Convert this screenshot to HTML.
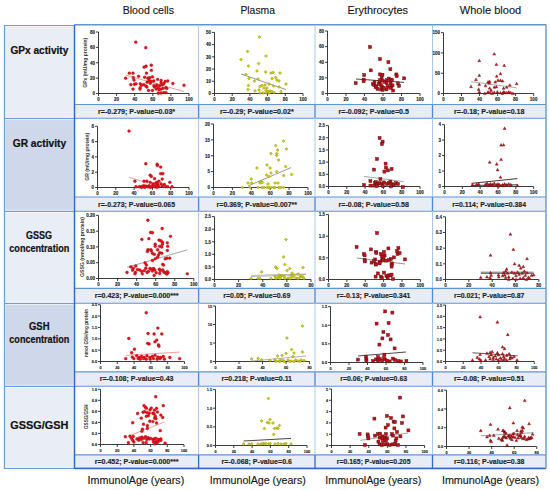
<!DOCTYPE html><html><head><meta charset="utf-8"><style>html,body{margin:0;padding:0;background:#fff;}svg{display:block;}</style></head><body>
<svg width="550" height="490" viewBox="0 0 550 490" font-family='"Liberation Sans", sans-serif'>
<rect width="550" height="490" fill="#fff"/>
<text x="122.7" y="13.6" font-size="10.1" font-weight="normal" fill="#151515" stroke="#151515" stroke-width="0.12" textLength="51.3" lengthAdjust="spacingAndGlyphs">Blood cells</text>
<text x="240.4" y="13.6" font-size="10.1" font-weight="normal" fill="#151515" stroke="#151515" stroke-width="0.12" textLength="34.6" lengthAdjust="spacingAndGlyphs">Plasma</text>
<text x="347.6" y="13.6" font-size="10.1" font-weight="normal" fill="#151515" stroke="#151515" stroke-width="0.12" textLength="60.4" lengthAdjust="spacingAndGlyphs">Erythrocytes</text>
<text x="459.8" y="13.6" font-size="10.1" font-weight="normal" fill="#151515" stroke="#151515" stroke-width="0.12" textLength="61.4" lengthAdjust="spacingAndGlyphs">Whole blood</text>
<rect x="4" y="25" width="70.5" height="93" fill="#e9edf5"/>
<rect x="4" y="118" width="70.5" height="93" fill="#cfd8ea"/>
<rect x="4" y="211" width="70.5" height="92" fill="#e9edf5"/>
<rect x="4" y="303" width="70.5" height="83" fill="#cfd8ea"/>
<rect x="4" y="386" width="70.5" height="82" fill="#e9edf5"/>
<rect x="75" y="25" width="471" height="79.5" fill="#fff"/>
<rect x="75" y="104.5" width="471" height="13.5" fill="#e8ecf4"/>
<rect x="75" y="118" width="471" height="79" fill="#fff"/>
<rect x="75" y="197" width="471" height="14" fill="#e8ecf4"/>
<rect x="75" y="211" width="471" height="77.39999999999998" fill="#fff"/>
<rect x="75" y="288.4" width="471" height="14.600000000000023" fill="#e8ecf4"/>
<rect x="75" y="303" width="471" height="68.89999999999998" fill="#fff"/>
<rect x="75" y="371.9" width="471" height="14.100000000000023" fill="#e8ecf4"/>
<rect x="75" y="386" width="471" height="68.89999999999998" fill="#fff"/>
<rect x="75" y="454.9" width="471" height="13.100000000000023" fill="#e8ecf4"/>
<line x1="5" y1="26.6" x2="74" y2="26.6" stroke="#f7f8fc" stroke-width="0.9" opacity="0.8"/>
<line x1="5" y1="117.1" x2="74" y2="117.1" stroke="#f7f8fc" stroke-width="0.8" opacity="0.6"/>
<line x1="5" y1="119.6" x2="74" y2="119.6" stroke="#f7f8fc" stroke-width="0.9" opacity="0.8"/>
<line x1="5" y1="210.1" x2="74" y2="210.1" stroke="#f7f8fc" stroke-width="0.8" opacity="0.6"/>
<line x1="5" y1="212.6" x2="74" y2="212.6" stroke="#f7f8fc" stroke-width="0.9" opacity="0.8"/>
<line x1="5" y1="302.1" x2="74" y2="302.1" stroke="#f7f8fc" stroke-width="0.8" opacity="0.6"/>
<line x1="5" y1="304.6" x2="74" y2="304.6" stroke="#f7f8fc" stroke-width="0.9" opacity="0.8"/>
<line x1="5" y1="385.1" x2="74" y2="385.1" stroke="#f7f8fc" stroke-width="0.8" opacity="0.6"/>
<line x1="5" y1="387.6" x2="74" y2="387.6" stroke="#f7f8fc" stroke-width="0.9" opacity="0.8"/>
<line x1="5" y1="467.1" x2="74" y2="467.1" stroke="#f7f8fc" stroke-width="0.8" opacity="0.6"/>
<line x1="5.6" y1="25" x2="5.6" y2="468" stroke="#f7f8fc" stroke-width="0.9" opacity="0.8"/>
<line x1="73.3" y1="25" x2="73.3" y2="468" stroke="#f7f8fc" stroke-width="0.8" opacity="0.6"/>
<line x1="4" y1="25.5" x2="74.5" y2="25.5" stroke="#6b9edb" stroke-width="1.2"/>
<line x1="4" y1="118.5" x2="74.5" y2="118.5" stroke="#6b9edb" stroke-width="1.2"/>
<line x1="4" y1="211.5" x2="74.5" y2="211.5" stroke="#6b9edb" stroke-width="1.2"/>
<line x1="4" y1="303.5" x2="74.5" y2="303.5" stroke="#6b9edb" stroke-width="1.2"/>
<line x1="4" y1="386.5" x2="74.5" y2="386.5" stroke="#6b9edb" stroke-width="1.2"/>
<line x1="4" y1="468.5" x2="74.5" y2="468.5" stroke="#6b9edb" stroke-width="1.2"/>
<line x1="4.5" y1="25" x2="4.5" y2="469" stroke="#6b9edb" stroke-width="1.3"/>
<line x1="75" y1="104.5" x2="546" y2="104.5" stroke="#5e95d6" stroke-width="1.1"/>
<line x1="75" y1="118.3" x2="546" y2="118.3" stroke="#5e95d6" stroke-width="1.1"/>
<line x1="75" y1="197" x2="546" y2="197" stroke="#5e95d6" stroke-width="1.1"/>
<line x1="75" y1="211.3" x2="546" y2="211.3" stroke="#5e95d6" stroke-width="1.1"/>
<line x1="75" y1="288.4" x2="546" y2="288.4" stroke="#5e95d6" stroke-width="1.1"/>
<line x1="75" y1="303.3" x2="546" y2="303.3" stroke="#5e95d6" stroke-width="1.1"/>
<line x1="75" y1="371.9" x2="546" y2="371.9" stroke="#5e95d6" stroke-width="1.1"/>
<line x1="75" y1="386.3" x2="546" y2="386.3" stroke="#5e95d6" stroke-width="1.1"/>
<line x1="75" y1="454.9" x2="546" y2="454.9" stroke="#5e95d6" stroke-width="1.1"/>
<line x1="75" y1="468.3" x2="546" y2="468.3" stroke="#5e95d6" stroke-width="1.1"/>
<line x1="75" y1="24.8" x2="546" y2="24.8" stroke="#5e95d6" stroke-width="1.4"/>
<line x1="198.6" y1="25" x2="198.6" y2="104.5" stroke="#a9c7ec" stroke-width="1"/>
<line x1="198.6" y1="104.5" x2="198.6" y2="118" stroke="#4f8ad4" stroke-width="1.3"/>
<line x1="198.6" y1="118" x2="198.6" y2="197" stroke="#a9c7ec" stroke-width="1"/>
<line x1="198.6" y1="197" x2="198.6" y2="211" stroke="#4f8ad4" stroke-width="1.3"/>
<line x1="198.6" y1="211" x2="198.6" y2="288.4" stroke="#a9c7ec" stroke-width="1"/>
<line x1="198.6" y1="288.4" x2="198.6" y2="303" stroke="#4f8ad4" stroke-width="1.3"/>
<line x1="198.6" y1="303" x2="198.6" y2="371.9" stroke="#a9c7ec" stroke-width="1"/>
<line x1="198.6" y1="371.9" x2="198.6" y2="386" stroke="#4f8ad4" stroke-width="1.3"/>
<line x1="198.6" y1="386" x2="198.6" y2="454.9" stroke="#a9c7ec" stroke-width="1"/>
<line x1="198.6" y1="454.9" x2="198.6" y2="468" stroke="#2f6cc4" stroke-width="1.3"/>
<line x1="315" y1="25" x2="315" y2="104.5" stroke="#a9c7ec" stroke-width="1"/>
<line x1="315" y1="104.5" x2="315" y2="118" stroke="#4f8ad4" stroke-width="1.3"/>
<line x1="315" y1="118" x2="315" y2="197" stroke="#a9c7ec" stroke-width="1"/>
<line x1="315" y1="197" x2="315" y2="211" stroke="#4f8ad4" stroke-width="1.3"/>
<line x1="315" y1="211" x2="315" y2="288.4" stroke="#a9c7ec" stroke-width="1"/>
<line x1="315" y1="288.4" x2="315" y2="303" stroke="#4f8ad4" stroke-width="1.3"/>
<line x1="315" y1="303" x2="315" y2="371.9" stroke="#a9c7ec" stroke-width="1"/>
<line x1="315" y1="371.9" x2="315" y2="386" stroke="#4f8ad4" stroke-width="1.3"/>
<line x1="315" y1="386" x2="315" y2="454.9" stroke="#a9c7ec" stroke-width="1"/>
<line x1="315" y1="454.9" x2="315" y2="468" stroke="#2f6cc4" stroke-width="1.3"/>
<line x1="432.5" y1="25" x2="432.5" y2="104.5" stroke="#a9c7ec" stroke-width="1"/>
<line x1="432.5" y1="104.5" x2="432.5" y2="118" stroke="#4f8ad4" stroke-width="1.3"/>
<line x1="432.5" y1="118" x2="432.5" y2="197" stroke="#a9c7ec" stroke-width="1"/>
<line x1="432.5" y1="197" x2="432.5" y2="211" stroke="#4f8ad4" stroke-width="1.3"/>
<line x1="432.5" y1="211" x2="432.5" y2="288.4" stroke="#a9c7ec" stroke-width="1"/>
<line x1="432.5" y1="288.4" x2="432.5" y2="303" stroke="#4f8ad4" stroke-width="1.3"/>
<line x1="432.5" y1="303" x2="432.5" y2="371.9" stroke="#a9c7ec" stroke-width="1"/>
<line x1="432.5" y1="371.9" x2="432.5" y2="386" stroke="#4f8ad4" stroke-width="1.3"/>
<line x1="432.5" y1="386" x2="432.5" y2="454.9" stroke="#a9c7ec" stroke-width="1"/>
<line x1="432.5" y1="454.9" x2="432.5" y2="468" stroke="#2f6cc4" stroke-width="1.3"/>
<line x1="75" y1="468.5" x2="546" y2="468.5" stroke="#2f6abf" stroke-width="1.4"/>
<line x1="546" y1="24.5" x2="546" y2="468.5" stroke="#6a9cd8" stroke-width="1.5"/>
<line x1="74.5" y1="24.5" x2="74.5" y2="469" stroke="#2c6cc5" stroke-width="1.5"/>
<text x="10.4" y="53.6" font-size="10.1" font-weight="bold" fill="#111" stroke="#111" stroke-width="0.2" textLength="58.0" lengthAdjust="spacingAndGlyphs">GPx activity</text>
<text x="12.7" y="146.5" font-size="10.1" font-weight="bold" fill="#111" stroke="#111" stroke-width="0.2" textLength="53.4" lengthAdjust="spacingAndGlyphs">GR activity</text>
<text x="26.1" y="239.0" font-size="10.1" font-weight="bold" fill="#111" stroke="#111" stroke-width="0.2" textLength="26.0" lengthAdjust="spacingAndGlyphs">GSSG</text>
<text x="9.3" y="251.8" font-size="10.1" font-weight="bold" fill="#111" stroke="#111" stroke-width="0.2" textLength="60.0" lengthAdjust="spacingAndGlyphs">concentration</text>
<text x="29.0" y="330.3" font-size="10.1" font-weight="bold" fill="#111" stroke="#111" stroke-width="0.2" textLength="20.5" lengthAdjust="spacingAndGlyphs">GSH</text>
<text x="9.3" y="343.3" font-size="10.1" font-weight="bold" fill="#111" stroke="#111" stroke-width="0.2" textLength="60.0" lengthAdjust="spacingAndGlyphs">concentration</text>
<text x="10.3" y="428.5" font-size="10.1" font-weight="bold" fill="#111" stroke="#111" stroke-width="0.2" textLength="58.0" lengthAdjust="spacingAndGlyphs">GSSG/GSH</text>
<text x="98.1" y="113.8" font-size="8.0" font-weight="bold" fill="#1e1e1e" stroke="#1e1e1e" stroke-width="0.15" textLength="77.0" lengthAdjust="spacingAndGlyphs">r=-0.279; P-value=0.03*</text>
<text x="220.0" y="113.8" font-size="8.0" font-weight="bold" fill="#1e1e1e" stroke="#1e1e1e" stroke-width="0.15" textLength="73.7" lengthAdjust="spacingAndGlyphs">r=-0.29; P-value=0.02*</text>
<text x="338.5" y="113.8" font-size="8.0" font-weight="bold" fill="#1e1e1e" stroke="#1e1e1e" stroke-width="0.15" textLength="70.4" lengthAdjust="spacingAndGlyphs">r=-0.092; P-value=0.5</text>
<text x="454.0" y="113.8" font-size="8.0" font-weight="bold" fill="#1e1e1e" stroke="#1e1e1e" stroke-width="0.15" textLength="70.4" lengthAdjust="spacingAndGlyphs">r=-0.18; P-value=0.18</text>
<text x="98.1" y="206.5" font-size="8.0" font-weight="bold" fill="#1e1e1e" stroke="#1e1e1e" stroke-width="0.15" textLength="77.0" lengthAdjust="spacingAndGlyphs">r=-0.273; P-value=0.065</text>
<text x="216.6" y="206.5" font-size="8.0" font-weight="bold" fill="#1e1e1e" stroke="#1e1e1e" stroke-width="0.15" textLength="80.4" lengthAdjust="spacingAndGlyphs">r=0.369; P-value=0.007**</text>
<text x="338.5" y="206.5" font-size="8.0" font-weight="bold" fill="#1e1e1e" stroke="#1e1e1e" stroke-width="0.15" textLength="70.4" lengthAdjust="spacingAndGlyphs">r=-0.08; P-value=0.58</text>
<text x="452.3" y="206.5" font-size="8.0" font-weight="bold" fill="#1e1e1e" stroke="#1e1e1e" stroke-width="0.15" textLength="73.7" lengthAdjust="spacingAndGlyphs">r=0.114; P-value=0.384</text>
<text x="94.7" y="298.2" font-size="8.0" font-weight="bold" fill="#1e1e1e" stroke="#1e1e1e" stroke-width="0.15" textLength="83.8" lengthAdjust="spacingAndGlyphs">r=0.423; P-value=0.000***</text>
<text x="223.3" y="298.2" font-size="8.0" font-weight="bold" fill="#1e1e1e" stroke="#1e1e1e" stroke-width="0.15" textLength="67.0" lengthAdjust="spacingAndGlyphs">r=0.05; P-value=0.69</text>
<text x="336.8" y="298.2" font-size="8.0" font-weight="bold" fill="#1e1e1e" stroke="#1e1e1e" stroke-width="0.15" textLength="73.7" lengthAdjust="spacingAndGlyphs">r=-0.13; P-value=0.341</text>
<text x="454.0" y="298.2" font-size="8.0" font-weight="bold" fill="#1e1e1e" stroke="#1e1e1e" stroke-width="0.15" textLength="70.4" lengthAdjust="spacingAndGlyphs">r=0.021; P-value=0.87</text>
<text x="99.8" y="381.4" font-size="8.0" font-weight="bold" fill="#1e1e1e" stroke="#1e1e1e" stroke-width="0.15" textLength="73.7" lengthAdjust="spacingAndGlyphs">r=-0.108; P-value=0.43</text>
<text x="221.6" y="381.4" font-size="8.0" font-weight="bold" fill="#1e1e1e" stroke="#1e1e1e" stroke-width="0.15" textLength="70.4" lengthAdjust="spacingAndGlyphs">r=0.218; P-value=0.11</text>
<text x="340.2" y="381.4" font-size="8.0" font-weight="bold" fill="#1e1e1e" stroke="#1e1e1e" stroke-width="0.15" textLength="67.0" lengthAdjust="spacingAndGlyphs">r=0.06; P-value=0.63</text>
<text x="454.0" y="381.4" font-size="8.0" font-weight="bold" fill="#1e1e1e" stroke="#1e1e1e" stroke-width="0.15" textLength="70.4" lengthAdjust="spacingAndGlyphs">r=-0.08; P-value=0.51</text>
<text x="94.7" y="463.9" font-size="8.0" font-weight="bold" fill="#1e1e1e" stroke="#1e1e1e" stroke-width="0.15" textLength="83.8" lengthAdjust="spacingAndGlyphs">r=0.452; P-value=0.000***</text>
<text x="221.6" y="463.9" font-size="8.0" font-weight="bold" fill="#1e1e1e" stroke="#1e1e1e" stroke-width="0.15" textLength="70.4" lengthAdjust="spacingAndGlyphs">r=-0.068; P-value=0.6</text>
<text x="336.8" y="463.9" font-size="8.0" font-weight="bold" fill="#1e1e1e" stroke="#1e1e1e" stroke-width="0.15" textLength="73.7" lengthAdjust="spacingAndGlyphs">r=0.165; P-value=0.205</text>
<text x="454.0" y="463.9" font-size="8.0" font-weight="bold" fill="#1e1e1e" stroke="#1e1e1e" stroke-width="0.15" textLength="70.4" lengthAdjust="spacingAndGlyphs">r=0.116; P-value=0.38</text>
<text x="87.6" y="483.5" font-size="10.1" font-weight="normal" fill="#151515" stroke="#151515" stroke-width="0.12" textLength="96.7" lengthAdjust="spacingAndGlyphs">ImmunolAge (years)</text>
<text x="209.8" y="483.5" font-size="10.1" font-weight="normal" fill="#151515" stroke="#151515" stroke-width="0.12" textLength="96.0" lengthAdjust="spacingAndGlyphs">ImmunolAge (years)</text>
<text x="325.3" y="483.5" font-size="10.1" font-weight="normal" fill="#151515" stroke="#151515" stroke-width="0.12" textLength="96.0" lengthAdjust="spacingAndGlyphs">ImmunolAge (years)</text>
<text x="441.9" y="483.5" font-size="10.1" font-weight="normal" fill="#151515" stroke="#151515" stroke-width="0.12" textLength="97.1" lengthAdjust="spacingAndGlyphs">ImmunolAge (years)</text>
<g stroke="#262626" stroke-width="0.9" fill="none">
<line x1="98.50" y1="32.00" x2="98.50" y2="93.50"/>
<line x1="98.50" y1="93.50" x2="189.00" y2="93.50"/>
<line x1="96.00" y1="93.50" x2="98.50" y2="93.50"/>
<line x1="96.00" y1="78.12" x2="98.50" y2="78.12"/>
<line x1="96.00" y1="62.75" x2="98.50" y2="62.75"/>
<line x1="96.00" y1="47.38" x2="98.50" y2="47.38"/>
<line x1="96.00" y1="32.00" x2="98.50" y2="32.00"/>
<line x1="98.50" y1="93.50" x2="98.50" y2="96.00"/>
<line x1="116.60" y1="93.50" x2="116.60" y2="96.00"/>
<line x1="134.70" y1="93.50" x2="134.70" y2="96.00"/>
<line x1="152.80" y1="93.50" x2="152.80" y2="96.00"/>
<line x1="170.90" y1="93.50" x2="170.90" y2="96.00"/>
<line x1="189.00" y1="93.50" x2="189.00" y2="96.00"/>
</g>
<g font-size="4.9" font-weight="bold" fill="#1a1a1a" stroke="#1a1a1a" stroke-width="0.12">
<text x="92.55" y="95.26" textLength="2.5" lengthAdjust="spacingAndGlyphs">0</text>
<text x="90.00" y="79.89" textLength="5.1" lengthAdjust="spacingAndGlyphs">20</text>
<text x="90.00" y="64.51" textLength="5.1" lengthAdjust="spacingAndGlyphs">40</text>
<text x="90.00" y="49.14" textLength="5.1" lengthAdjust="spacingAndGlyphs">60</text>
<text x="90.00" y="33.76" textLength="5.1" lengthAdjust="spacingAndGlyphs">80</text>
<text x="97.22" y="101.20" textLength="2.5" lengthAdjust="spacingAndGlyphs">0</text>
<text x="114.05" y="101.20" textLength="5.1" lengthAdjust="spacingAndGlyphs">20</text>
<text x="132.15" y="101.20" textLength="5.1" lengthAdjust="spacingAndGlyphs">40</text>
<text x="150.25" y="101.20" textLength="5.1" lengthAdjust="spacingAndGlyphs">60</text>
<text x="168.35" y="101.20" textLength="5.1" lengthAdjust="spacingAndGlyphs">80</text>
<text x="185.18" y="101.20" textLength="7.6" lengthAdjust="spacingAndGlyphs">100</text>
</g>
<line x1="125.60" y1="75.00" x2="184.00" y2="91.60" stroke="#f4928a" stroke-width="0.9"/>
<g>
<circle cx="184.00" cy="85.40" r="1.45" fill="#e5121a" stroke="#a00c10" stroke-width="0.35"/>
<circle cx="135.78" cy="42.17" r="1.45" fill="#e5121a" stroke="#a00c10" stroke-width="0.35"/>
<circle cx="145.78" cy="47.72" r="1.45" fill="#e5121a" stroke="#a00c10" stroke-width="0.35"/>
<circle cx="144.11" cy="67.17" r="1.45" fill="#e5121a" stroke="#a00c10" stroke-width="0.35"/>
<circle cx="146.06" cy="66.19" r="1.45" fill="#e5121a" stroke="#a00c10" stroke-width="0.35"/>
<circle cx="151.33" cy="65.22" r="1.45" fill="#e5121a" stroke="#a00c10" stroke-width="0.35"/>
<circle cx="151.33" cy="70.36" r="1.45" fill="#e5121a" stroke="#a00c10" stroke-width="0.35"/>
<circle cx="129.39" cy="73.14" r="1.45" fill="#e5121a" stroke="#a00c10" stroke-width="0.35"/>
<circle cx="133.00" cy="73.14" r="1.45" fill="#e5121a" stroke="#a00c10" stroke-width="0.35"/>
<circle cx="146.47" cy="73.14" r="1.45" fill="#e5121a" stroke="#a00c10" stroke-width="0.35"/>
<circle cx="138.56" cy="76.33" r="1.45" fill="#e5121a" stroke="#a00c10" stroke-width="0.35"/>
<circle cx="125.64" cy="78.28" r="1.45" fill="#e5121a" stroke="#a00c10" stroke-width="0.35"/>
<circle cx="133.28" cy="77.72" r="1.45" fill="#e5121a" stroke="#a00c10" stroke-width="0.35"/>
<circle cx="133.97" cy="80.08" r="1.45" fill="#e5121a" stroke="#a00c10" stroke-width="0.35"/>
<circle cx="144.67" cy="77.31" r="1.45" fill="#e5121a" stroke="#a00c10" stroke-width="0.35"/>
<circle cx="147.86" cy="78.28" r="1.45" fill="#e5121a" stroke="#a00c10" stroke-width="0.35"/>
<circle cx="149.67" cy="77.72" r="1.45" fill="#e5121a" stroke="#a00c10" stroke-width="0.35"/>
<circle cx="152.44" cy="76.89" r="1.45" fill="#e5121a" stroke="#a00c10" stroke-width="0.35"/>
<circle cx="149.25" cy="80.50" r="1.45" fill="#e5121a" stroke="#a00c10" stroke-width="0.35"/>
<circle cx="151.33" cy="81.47" r="1.45" fill="#e5121a" stroke="#a00c10" stroke-width="0.35"/>
<circle cx="153.83" cy="81.06" r="1.45" fill="#e5121a" stroke="#a00c10" stroke-width="0.35"/>
<circle cx="157.58" cy="79.39" r="1.45" fill="#e5121a" stroke="#a00c10" stroke-width="0.35"/>
<circle cx="161.06" cy="80.50" r="1.45" fill="#e5121a" stroke="#a00c10" stroke-width="0.35"/>
<circle cx="167.72" cy="81.06" r="1.45" fill="#e5121a" stroke="#a00c10" stroke-width="0.35"/>
<circle cx="172.86" cy="83.56" r="1.45" fill="#e5121a" stroke="#a00c10" stroke-width="0.35"/>
<circle cx="130.78" cy="84.67" r="1.45" fill="#e5121a" stroke="#a00c10" stroke-width="0.35"/>
<circle cx="134.39" cy="84.25" r="1.45" fill="#e5121a" stroke="#a00c10" stroke-width="0.35"/>
<circle cx="136.06" cy="83.83" r="1.45" fill="#e5121a" stroke="#a00c10" stroke-width="0.35"/>
<circle cx="140.22" cy="83.83" r="1.45" fill="#e5121a" stroke="#a00c10" stroke-width="0.35"/>
<circle cx="141.61" cy="85.22" r="1.45" fill="#e5121a" stroke="#a00c10" stroke-width="0.35"/>
<circle cx="143.69" cy="84.67" r="1.45" fill="#e5121a" stroke="#a00c10" stroke-width="0.35"/>
<circle cx="145.78" cy="86.06" r="1.45" fill="#e5121a" stroke="#a00c10" stroke-width="0.35"/>
<circle cx="147.17" cy="82.17" r="1.45" fill="#e5121a" stroke="#a00c10" stroke-width="0.35"/>
<circle cx="150.22" cy="83.28" r="1.45" fill="#e5121a" stroke="#a00c10" stroke-width="0.35"/>
<circle cx="133.00" cy="89.11" r="1.45" fill="#e5121a" stroke="#a00c10" stroke-width="0.35"/>
<circle cx="139.94" cy="89.11" r="1.45" fill="#e5121a" stroke="#a00c10" stroke-width="0.35"/>
<circle cx="140.22" cy="87.72" r="1.45" fill="#e5121a" stroke="#a00c10" stroke-width="0.35"/>
<circle cx="148.56" cy="90.50" r="1.45" fill="#e5121a" stroke="#a00c10" stroke-width="0.35"/>
<circle cx="152.44" cy="90.50" r="1.45" fill="#e5121a" stroke="#a00c10" stroke-width="0.35"/>
<circle cx="153.83" cy="85.64" r="1.45" fill="#e5121a" stroke="#a00c10" stroke-width="0.35"/>
<circle cx="155.50" cy="86.33" r="1.45" fill="#e5121a" stroke="#a00c10" stroke-width="0.35"/>
<circle cx="156.89" cy="84.94" r="1.45" fill="#e5121a" stroke="#a00c10" stroke-width="0.35"/>
<circle cx="158.28" cy="87.72" r="1.45" fill="#e5121a" stroke="#a00c10" stroke-width="0.35"/>
<circle cx="159.67" cy="85.64" r="1.45" fill="#e5121a" stroke="#a00c10" stroke-width="0.35"/>
<circle cx="161.06" cy="82.86" r="1.45" fill="#e5121a" stroke="#a00c10" stroke-width="0.35"/>
<circle cx="162.17" cy="84.94" r="1.45" fill="#e5121a" stroke="#a00c10" stroke-width="0.35"/>
<circle cx="163.83" cy="83.56" r="1.45" fill="#e5121a" stroke="#a00c10" stroke-width="0.35"/>
<circle cx="165.22" cy="81.47" r="1.45" fill="#e5121a" stroke="#a00c10" stroke-width="0.35"/>
<circle cx="154.39" cy="87.03" r="1.45" fill="#e5121a" stroke="#a00c10" stroke-width="0.35"/>
<circle cx="156.19" cy="89.11" r="1.45" fill="#e5121a" stroke="#a00c10" stroke-width="0.35"/>
<circle cx="158.97" cy="89.81" r="1.45" fill="#e5121a" stroke="#a00c10" stroke-width="0.35"/>
<circle cx="161.06" cy="89.11" r="1.45" fill="#e5121a" stroke="#a00c10" stroke-width="0.35"/>
<circle cx="163.14" cy="88.42" r="1.45" fill="#e5121a" stroke="#a00c10" stroke-width="0.35"/>
<circle cx="165.92" cy="87.72" r="1.45" fill="#e5121a" stroke="#a00c10" stroke-width="0.35"/>
<circle cx="166.89" cy="88.42" r="1.45" fill="#e5121a" stroke="#a00c10" stroke-width="0.35"/>
<circle cx="158.28" cy="93.28" r="1.45" fill="#e5121a" stroke="#a00c10" stroke-width="0.35"/>
<circle cx="161.06" cy="93.00" r="1.45" fill="#e5121a" stroke="#a00c10" stroke-width="0.35"/>
<circle cx="163.83" cy="92.58" r="1.45" fill="#e5121a" stroke="#a00c10" stroke-width="0.35"/>
<circle cx="165.92" cy="92.58" r="1.45" fill="#e5121a" stroke="#a00c10" stroke-width="0.35"/>
<circle cx="146.89" cy="87.03" r="1.45" fill="#e5121a" stroke="#a00c10" stroke-width="0.35"/>
</g>
<text transform="translate(84.5,62.7) rotate(-90)" x="-25.0" y="2" font-size="5.2" font-weight="bold" fill="#333" textLength="50" lengthAdjust="spacingAndGlyphs">GPx (mU/mg protein)</text>
<g stroke="#262626" stroke-width="0.9" fill="none">
<line x1="214.50" y1="32.40" x2="214.50" y2="93.50"/>
<line x1="214.50" y1="93.50" x2="303.00" y2="93.50"/>
<line x1="212.00" y1="93.50" x2="214.50" y2="93.50"/>
<line x1="212.00" y1="81.28" x2="214.50" y2="81.28"/>
<line x1="212.00" y1="69.06" x2="214.50" y2="69.06"/>
<line x1="212.00" y1="56.84" x2="214.50" y2="56.84"/>
<line x1="212.00" y1="44.62" x2="214.50" y2="44.62"/>
<line x1="212.00" y1="32.40" x2="214.50" y2="32.40"/>
<line x1="214.50" y1="93.50" x2="214.50" y2="96.00"/>
<line x1="232.20" y1="93.50" x2="232.20" y2="96.00"/>
<line x1="249.90" y1="93.50" x2="249.90" y2="96.00"/>
<line x1="267.60" y1="93.50" x2="267.60" y2="96.00"/>
<line x1="285.30" y1="93.50" x2="285.30" y2="96.00"/>
<line x1="303.00" y1="93.50" x2="303.00" y2="96.00"/>
</g>
<g font-size="4.9" font-weight="bold" fill="#1a1a1a" stroke="#1a1a1a" stroke-width="0.12">
<text x="208.55" y="95.26" textLength="2.5" lengthAdjust="spacingAndGlyphs">0</text>
<text x="206.00" y="83.04" textLength="5.1" lengthAdjust="spacingAndGlyphs">10</text>
<text x="206.00" y="70.82" textLength="5.1" lengthAdjust="spacingAndGlyphs">20</text>
<text x="206.00" y="58.60" textLength="5.1" lengthAdjust="spacingAndGlyphs">30</text>
<text x="206.00" y="46.38" textLength="5.1" lengthAdjust="spacingAndGlyphs">40</text>
<text x="206.00" y="34.16" textLength="5.1" lengthAdjust="spacingAndGlyphs">50</text>
<text x="213.22" y="101.20" textLength="2.5" lengthAdjust="spacingAndGlyphs">0</text>
<text x="229.65" y="101.20" textLength="5.1" lengthAdjust="spacingAndGlyphs">20</text>
<text x="247.35" y="101.20" textLength="5.1" lengthAdjust="spacingAndGlyphs">40</text>
<text x="265.05" y="101.20" textLength="5.1" lengthAdjust="spacingAndGlyphs">60</text>
<text x="282.75" y="101.20" textLength="5.1" lengthAdjust="spacingAndGlyphs">80</text>
<text x="299.18" y="101.20" textLength="7.6" lengthAdjust="spacingAndGlyphs">100</text>
</g>
<line x1="241.00" y1="74.00" x2="286.00" y2="89.60" stroke="#8a8a8a" stroke-width="0.9"/>
<g>
<path d="M259.40 35.50L260.90 37.00L259.40 38.50L257.90 37.00Z" fill="#cccc00" stroke="#858000" stroke-width="0.4"/>
<path d="M247.60 49.90L249.10 51.40L247.60 52.90L246.10 51.40Z" fill="#cccc00" stroke="#858000" stroke-width="0.4"/>
<path d="M241.00 58.10L242.50 59.60L241.00 61.10L239.50 59.60Z" fill="#cccc00" stroke="#858000" stroke-width="0.4"/>
<path d="M266.00 54.50L267.50 56.00L266.00 57.50L264.50 56.00Z" fill="#cccc00" stroke="#858000" stroke-width="0.4"/>
<path d="M258.60 62.10L260.10 63.60L258.60 65.10L257.10 63.60Z" fill="#cccc00" stroke="#858000" stroke-width="0.4"/>
<path d="M248.40 64.50L249.90 66.00L248.40 67.50L246.90 66.00Z" fill="#cccc00" stroke="#858000" stroke-width="0.4"/>
<path d="M257.00 69.50L258.50 71.00L257.00 72.50L255.50 71.00Z" fill="#cccc00" stroke="#858000" stroke-width="0.4"/>
<path d="M265.60 70.50L267.10 72.00L265.60 73.50L264.10 72.00Z" fill="#cccc00" stroke="#858000" stroke-width="0.4"/>
<path d="M271.00 71.50L272.50 73.00L271.00 74.50L269.50 73.00Z" fill="#cccc00" stroke="#858000" stroke-width="0.4"/>
<path d="M273.00 70.90L274.50 72.40L273.00 73.90L271.50 72.40Z" fill="#cccc00" stroke="#858000" stroke-width="0.4"/>
<path d="M280.00 71.50L281.50 73.00L280.00 74.50L278.50 73.00Z" fill="#cccc00" stroke="#858000" stroke-width="0.4"/>
<path d="M246.00 72.90L247.50 74.40L246.00 75.90L244.50 74.40Z" fill="#cccc00" stroke="#858000" stroke-width="0.4"/>
<path d="M249.00 76.90L250.50 78.40L249.00 79.90L247.50 78.40Z" fill="#cccc00" stroke="#858000" stroke-width="0.4"/>
<path d="M258.00 77.50L259.50 79.00L258.00 80.50L256.50 79.00Z" fill="#cccc00" stroke="#858000" stroke-width="0.4"/>
<path d="M272.00 77.10L273.50 78.60L272.00 80.10L270.50 78.60Z" fill="#cccc00" stroke="#858000" stroke-width="0.4"/>
<path d="M275.60 76.10L277.10 77.60L275.60 79.10L274.10 77.60Z" fill="#cccc00" stroke="#858000" stroke-width="0.4"/>
<path d="M277.00 78.50L278.50 80.00L277.00 81.50L275.50 80.00Z" fill="#cccc00" stroke="#858000" stroke-width="0.4"/>
<path d="M279.00 79.50L280.50 81.00L279.00 82.50L277.50 81.00Z" fill="#cccc00" stroke="#858000" stroke-width="0.4"/>
<path d="M254.40 79.50L255.90 81.00L254.40 82.50L252.90 81.00Z" fill="#cccc00" stroke="#858000" stroke-width="0.4"/>
<path d="M265.00 83.50L266.50 85.00L265.00 86.50L263.50 85.00Z" fill="#cccc00" stroke="#858000" stroke-width="0.4"/>
<path d="M269.00 82.50L270.50 84.00L269.00 85.50L267.50 84.00Z" fill="#cccc00" stroke="#858000" stroke-width="0.4"/>
<path d="M286.00 82.50L287.50 84.00L286.00 85.50L284.50 84.00Z" fill="#cccc00" stroke="#858000" stroke-width="0.4"/>
<path d="M248.40 84.10L249.90 85.60L248.40 87.10L246.90 85.60Z" fill="#cccc00" stroke="#858000" stroke-width="0.4"/>
<path d="M248.00 88.10L249.50 89.60L248.00 91.10L246.50 89.60Z" fill="#cccc00" stroke="#858000" stroke-width="0.4"/>
<path d="M260.00 85.10L261.50 86.60L260.00 88.10L258.50 86.60Z" fill="#cccc00" stroke="#858000" stroke-width="0.4"/>
<path d="M262.00 84.10L263.50 85.60L262.00 87.10L260.50 85.60Z" fill="#cccc00" stroke="#858000" stroke-width="0.4"/>
<path d="M264.00 86.50L265.50 88.00L264.00 89.50L262.50 88.00Z" fill="#cccc00" stroke="#858000" stroke-width="0.4"/>
<path d="M267.00 86.50L268.50 88.00L267.00 89.50L265.50 88.00Z" fill="#cccc00" stroke="#858000" stroke-width="0.4"/>
<path d="M273.60 84.50L275.10 86.00L273.60 87.50L272.10 86.00Z" fill="#cccc00" stroke="#858000" stroke-width="0.4"/>
<path d="M279.00 85.50L280.50 87.00L279.00 88.50L277.50 87.00Z" fill="#cccc00" stroke="#858000" stroke-width="0.4"/>
<path d="M255.00 89.50L256.50 91.00L255.00 92.50L253.50 91.00Z" fill="#cccc00" stroke="#858000" stroke-width="0.4"/>
<path d="M259.00 88.50L260.50 90.00L259.00 91.50L257.50 90.00Z" fill="#cccc00" stroke="#858000" stroke-width="0.4"/>
<path d="M266.00 88.90L267.50 90.40L266.00 91.90L264.50 90.40Z" fill="#cccc00" stroke="#858000" stroke-width="0.4"/>
<path d="M268.00 90.10L269.50 91.60L268.00 93.10L266.50 91.60Z" fill="#cccc00" stroke="#858000" stroke-width="0.4"/>
<path d="M270.00 89.50L271.50 91.00L270.00 92.50L268.50 91.00Z" fill="#cccc00" stroke="#858000" stroke-width="0.4"/>
<path d="M272.00 90.10L273.50 91.60L272.00 93.10L270.50 91.60Z" fill="#cccc00" stroke="#858000" stroke-width="0.4"/>
<path d="M274.00 90.90L275.50 92.40L274.00 93.90L272.50 92.40Z" fill="#cccc00" stroke="#858000" stroke-width="0.4"/>
<path d="M281.00 90.10L282.50 91.60L281.00 93.10L279.50 91.60Z" fill="#cccc00" stroke="#858000" stroke-width="0.4"/>
<path d="M260.00 91.50L261.50 93.00L260.00 94.50L258.50 93.00Z" fill="#cccc00" stroke="#858000" stroke-width="0.4"/>
<path d="M263.00 91.50L264.50 93.00L263.00 94.50L261.50 93.00Z" fill="#cccc00" stroke="#858000" stroke-width="0.4"/>
<path d="M266.00 91.50L267.50 93.00L266.00 94.50L264.50 93.00Z" fill="#cccc00" stroke="#858000" stroke-width="0.4"/>
<path d="M269.00 91.50L270.50 93.00L269.00 94.50L267.50 93.00Z" fill="#cccc00" stroke="#858000" stroke-width="0.4"/>
</g>
<g stroke="#262626" stroke-width="0.9" fill="none">
<line x1="327.50" y1="31.00" x2="327.50" y2="93.50"/>
<line x1="327.50" y1="93.50" x2="420.00" y2="93.50"/>
<line x1="325.00" y1="93.50" x2="327.50" y2="93.50"/>
<line x1="325.00" y1="77.88" x2="327.50" y2="77.88"/>
<line x1="325.00" y1="62.25" x2="327.50" y2="62.25"/>
<line x1="325.00" y1="46.62" x2="327.50" y2="46.62"/>
<line x1="325.00" y1="31.00" x2="327.50" y2="31.00"/>
<line x1="327.50" y1="93.50" x2="327.50" y2="96.00"/>
<line x1="346.00" y1="93.50" x2="346.00" y2="96.00"/>
<line x1="364.50" y1="93.50" x2="364.50" y2="96.00"/>
<line x1="383.00" y1="93.50" x2="383.00" y2="96.00"/>
<line x1="401.50" y1="93.50" x2="401.50" y2="96.00"/>
<line x1="420.00" y1="93.50" x2="420.00" y2="96.00"/>
</g>
<g font-size="4.9" font-weight="bold" fill="#1a1a1a" stroke="#1a1a1a" stroke-width="0.12">
<text x="321.55" y="95.26" textLength="2.5" lengthAdjust="spacingAndGlyphs">0</text>
<text x="319.00" y="79.64" textLength="5.1" lengthAdjust="spacingAndGlyphs">20</text>
<text x="319.00" y="64.01" textLength="5.1" lengthAdjust="spacingAndGlyphs">40</text>
<text x="319.00" y="48.39" textLength="5.1" lengthAdjust="spacingAndGlyphs">60</text>
<text x="319.00" y="32.76" textLength="5.1" lengthAdjust="spacingAndGlyphs">80</text>
<text x="326.23" y="101.20" textLength="2.5" lengthAdjust="spacingAndGlyphs">0</text>
<text x="343.45" y="101.20" textLength="5.1" lengthAdjust="spacingAndGlyphs">20</text>
<text x="361.95" y="101.20" textLength="5.1" lengthAdjust="spacingAndGlyphs">40</text>
<text x="380.45" y="101.20" textLength="5.1" lengthAdjust="spacingAndGlyphs">60</text>
<text x="398.95" y="101.20" textLength="5.1" lengthAdjust="spacingAndGlyphs">80</text>
<text x="416.18" y="101.20" textLength="7.6" lengthAdjust="spacingAndGlyphs">100</text>
</g>
<line x1="356.00" y1="79.00" x2="404.00" y2="82.40" stroke="#333" stroke-width="0.9"/>
<g>
<rect x="368.50" y="45.50" width="3" height="3" fill="#c0121a" stroke="#5a0b0d" stroke-width="0.45"/>
<rect x="378.50" y="57.50" width="3" height="3" fill="#c0121a" stroke="#5a0b0d" stroke-width="0.45"/>
<rect x="386.89" y="60.68" width="3" height="3" fill="#c0121a" stroke="#5a0b0d" stroke-width="0.45"/>
<rect x="388.85" y="67.77" width="3" height="3" fill="#c0121a" stroke="#5a0b0d" stroke-width="0.45"/>
<rect x="369.22" y="68.86" width="3" height="3" fill="#c0121a" stroke="#5a0b0d" stroke-width="0.45"/>
<rect x="362.68" y="73.55" width="3" height="3" fill="#c0121a" stroke="#5a0b0d" stroke-width="0.45"/>
<rect x="378.49" y="72.89" width="3" height="3" fill="#c0121a" stroke="#5a0b0d" stroke-width="0.45"/>
<rect x="381.00" y="73.22" width="3" height="3" fill="#c0121a" stroke="#5a0b0d" stroke-width="0.45"/>
<rect x="394.85" y="72.89" width="3" height="3" fill="#c0121a" stroke="#5a0b0d" stroke-width="0.45"/>
<rect x="395.17" y="74.64" width="3" height="3" fill="#c0121a" stroke="#5a0b0d" stroke-width="0.45"/>
<rect x="402.70" y="76.82" width="3" height="3" fill="#c0121a" stroke="#5a0b0d" stroke-width="0.45"/>
<rect x="380.12" y="76.17" width="3" height="3" fill="#c0121a" stroke="#5a0b0d" stroke-width="0.45"/>
<rect x="362.13" y="78.13" width="3" height="3" fill="#c0121a" stroke="#5a0b0d" stroke-width="0.45"/>
<rect x="362.13" y="79.76" width="3" height="3" fill="#c0121a" stroke="#5a0b0d" stroke-width="0.45"/>
<rect x="354.17" y="81.62" width="3" height="3" fill="#c0121a" stroke="#5a0b0d" stroke-width="0.45"/>
<rect x="373.04" y="80.31" width="3" height="3" fill="#c0121a" stroke="#5a0b0d" stroke-width="0.45"/>
<rect x="371.40" y="82.49" width="3" height="3" fill="#c0121a" stroke="#5a0b0d" stroke-width="0.45"/>
<rect x="372.71" y="83.36" width="3" height="3" fill="#c0121a" stroke="#5a0b0d" stroke-width="0.45"/>
<rect x="374.67" y="84.67" width="3" height="3" fill="#c0121a" stroke="#5a0b0d" stroke-width="0.45"/>
<rect x="374.13" y="85.76" width="3" height="3" fill="#c0121a" stroke="#5a0b0d" stroke-width="0.45"/>
<rect x="375.98" y="87.40" width="3" height="3" fill="#c0121a" stroke="#5a0b0d" stroke-width="0.45"/>
<rect x="378.49" y="78.67" width="3" height="3" fill="#c0121a" stroke="#5a0b0d" stroke-width="0.45"/>
<rect x="377.94" y="80.86" width="3" height="3" fill="#c0121a" stroke="#5a0b0d" stroke-width="0.45"/>
<rect x="377.40" y="82.49" width="3" height="3" fill="#c0121a" stroke="#5a0b0d" stroke-width="0.45"/>
<rect x="381.22" y="79.22" width="3" height="3" fill="#c0121a" stroke="#5a0b0d" stroke-width="0.45"/>
<rect x="383.40" y="80.31" width="3" height="3" fill="#c0121a" stroke="#5a0b0d" stroke-width="0.45"/>
<rect x="385.36" y="78.67" width="3" height="3" fill="#c0121a" stroke="#5a0b0d" stroke-width="0.45"/>
<rect x="387.21" y="77.04" width="3" height="3" fill="#c0121a" stroke="#5a0b0d" stroke-width="0.45"/>
<rect x="389.39" y="78.13" width="3" height="3" fill="#c0121a" stroke="#5a0b0d" stroke-width="0.45"/>
<rect x="390.48" y="78.67" width="3" height="3" fill="#c0121a" stroke="#5a0b0d" stroke-width="0.45"/>
<rect x="379.58" y="83.58" width="3" height="3" fill="#c0121a" stroke="#5a0b0d" stroke-width="0.45"/>
<rect x="380.34" y="85.22" width="3" height="3" fill="#c0121a" stroke="#5a0b0d" stroke-width="0.45"/>
<rect x="379.58" y="87.94" width="3" height="3" fill="#c0121a" stroke="#5a0b0d" stroke-width="0.45"/>
<rect x="381.22" y="88.49" width="3" height="3" fill="#c0121a" stroke="#5a0b0d" stroke-width="0.45"/>
<rect x="385.03" y="81.40" width="3" height="3" fill="#c0121a" stroke="#5a0b0d" stroke-width="0.45"/>
<rect x="386.12" y="84.67" width="3" height="3" fill="#c0121a" stroke="#5a0b0d" stroke-width="0.45"/>
<rect x="389.07" y="81.95" width="3" height="3" fill="#c0121a" stroke="#5a0b0d" stroke-width="0.45"/>
<rect x="389.94" y="85.22" width="3" height="3" fill="#c0121a" stroke="#5a0b0d" stroke-width="0.45"/>
<rect x="391.03" y="83.80" width="3" height="3" fill="#c0121a" stroke="#5a0b0d" stroke-width="0.45"/>
<rect x="396.48" y="81.95" width="3" height="3" fill="#c0121a" stroke="#5a0b0d" stroke-width="0.45"/>
<rect x="397.57" y="84.45" width="3" height="3" fill="#c0121a" stroke="#5a0b0d" stroke-width="0.45"/>
<rect x="385.03" y="87.94" width="3" height="3" fill="#c0121a" stroke="#5a0b0d" stroke-width="0.45"/>
<rect x="388.85" y="86.31" width="3" height="3" fill="#c0121a" stroke="#5a0b0d" stroke-width="0.45"/>
<rect x="391.58" y="89.03" width="3" height="3" fill="#c0121a" stroke="#5a0b0d" stroke-width="0.45"/>
<rect x="382.31" y="86.31" width="3" height="3" fill="#c0121a" stroke="#5a0b0d" stroke-width="0.45"/>
</g>
<g stroke="#262626" stroke-width="0.9" fill="none">
<line x1="443.50" y1="32.64" x2="443.50" y2="93.50"/>
<line x1="443.50" y1="93.50" x2="533.66" y2="93.50"/>
<line x1="441.00" y1="93.50" x2="443.50" y2="93.50"/>
<line x1="441.00" y1="73.21" x2="443.50" y2="73.21"/>
<line x1="441.00" y1="52.93" x2="443.50" y2="52.93"/>
<line x1="441.00" y1="32.64" x2="443.50" y2="32.64"/>
<line x1="443.50" y1="93.50" x2="443.50" y2="96.00"/>
<line x1="461.53" y1="93.50" x2="461.53" y2="96.00"/>
<line x1="479.56" y1="93.50" x2="479.56" y2="96.00"/>
<line x1="497.60" y1="93.50" x2="497.60" y2="96.00"/>
<line x1="515.63" y1="93.50" x2="515.63" y2="96.00"/>
<line x1="533.66" y1="93.50" x2="533.66" y2="96.00"/>
</g>
<g font-size="4.9" font-weight="bold" fill="#1a1a1a" stroke="#1a1a1a" stroke-width="0.12">
<text x="437.55" y="95.26" textLength="2.5" lengthAdjust="spacingAndGlyphs">0</text>
<text x="435.00" y="74.98" textLength="5.1" lengthAdjust="spacingAndGlyphs">50</text>
<text x="432.45" y="54.69" textLength="7.6" lengthAdjust="spacingAndGlyphs">100</text>
<text x="432.45" y="34.40" textLength="7.6" lengthAdjust="spacingAndGlyphs">150</text>
<text x="442.23" y="101.20" textLength="2.5" lengthAdjust="spacingAndGlyphs">0</text>
<text x="458.98" y="101.20" textLength="5.1" lengthAdjust="spacingAndGlyphs">20</text>
<text x="477.01" y="101.20" textLength="5.1" lengthAdjust="spacingAndGlyphs">40</text>
<text x="495.05" y="101.20" textLength="5.1" lengthAdjust="spacingAndGlyphs">60</text>
<text x="513.08" y="101.20" textLength="5.1" lengthAdjust="spacingAndGlyphs">80</text>
<text x="529.83" y="101.20" textLength="7.6" lengthAdjust="spacingAndGlyphs">100</text>
</g>
<line x1="471.00" y1="81.60" x2="516.65" y2="87.83" stroke="#a5a5a5" stroke-width="0.9"/>
<g>
<path d="M494.24 52.51L495.69 55.11L492.79 55.11Z" fill="#d4161c" stroke="#5e0c0c" stroke-width="0.4"/>
<path d="M479.30 59.15L480.75 61.75L477.85 61.75Z" fill="#d4161c" stroke="#5e0c0c" stroke-width="0.4"/>
<path d="M496.32 62.88L497.77 65.48L494.87 65.48Z" fill="#d4161c" stroke="#5e0c0c" stroke-width="0.4"/>
<path d="M504.20 63.92L505.65 66.52L502.75 66.52Z" fill="#d4161c" stroke="#5e0c0c" stroke-width="0.4"/>
<path d="M496.73 74.71L498.18 77.31L495.28 77.31Z" fill="#d4161c" stroke="#5e0c0c" stroke-width="0.4"/>
<path d="M500.46 72.22L501.91 74.82L499.01 74.82Z" fill="#d4161c" stroke="#5e0c0c" stroke-width="0.4"/>
<path d="M479.30 73.88L480.75 76.48L477.85 76.48Z" fill="#d4161c" stroke="#5e0c0c" stroke-width="0.4"/>
<path d="M475.98 78.03L477.43 80.63L474.53 80.63Z" fill="#d4161c" stroke="#5e0c0c" stroke-width="0.4"/>
<path d="M497.98 78.86L499.43 81.46L496.53 81.46Z" fill="#d4161c" stroke="#5e0c0c" stroke-width="0.4"/>
<path d="M500.46 78.86L501.91 81.46L499.01 81.46Z" fill="#d4161c" stroke="#5e0c0c" stroke-width="0.4"/>
<path d="M488.02 80.52L489.47 83.12L486.57 83.12Z" fill="#d4161c" stroke="#5e0c0c" stroke-width="0.4"/>
<path d="M489.68 80.10L491.13 82.70L488.23 82.70Z" fill="#d4161c" stroke="#5e0c0c" stroke-width="0.4"/>
<path d="M489.05 81.55L490.50 84.15L487.60 84.15Z" fill="#d4161c" stroke="#5e0c0c" stroke-width="0.4"/>
<path d="M495.28 80.52L496.73 83.12L493.83 83.12Z" fill="#d4161c" stroke="#5e0c0c" stroke-width="0.4"/>
<path d="M502.54 79.48L503.99 82.08L501.09 82.08Z" fill="#d4161c" stroke="#5e0c0c" stroke-width="0.4"/>
<path d="M479.30 83.01L480.75 85.61L477.85 85.61Z" fill="#d4161c" stroke="#5e0c0c" stroke-width="0.4"/>
<path d="M485.53 84.25L486.98 86.85L484.08 86.85Z" fill="#d4161c" stroke="#5e0c0c" stroke-width="0.4"/>
<path d="M471.00 85.08L472.45 87.68L469.55 87.68Z" fill="#d4161c" stroke="#5e0c0c" stroke-width="0.4"/>
<path d="M509.80 83.63L511.25 86.23L508.35 86.23Z" fill="#d4161c" stroke="#5e0c0c" stroke-width="0.4"/>
<path d="M516.65 82.18L518.10 84.78L515.20 84.78Z" fill="#d4161c" stroke="#5e0c0c" stroke-width="0.4"/>
<path d="M494.24 85.70L495.69 88.30L492.79 88.30Z" fill="#d4161c" stroke="#5e0c0c" stroke-width="0.4"/>
<path d="M496.32 85.29L497.77 87.89L494.87 87.89Z" fill="#d4161c" stroke="#5e0c0c" stroke-width="0.4"/>
<path d="M503.58 86.74L505.03 89.34L502.13 89.34Z" fill="#d4161c" stroke="#5e0c0c" stroke-width="0.4"/>
<path d="M506.69 85.70L508.14 88.30L505.24 88.30Z" fill="#d4161c" stroke="#5e0c0c" stroke-width="0.4"/>
<path d="M489.68 86.74L491.13 89.34L488.23 89.34Z" fill="#d4161c" stroke="#5e0c0c" stroke-width="0.4"/>
<path d="M491.13 88.82L492.58 91.42L489.68 91.42Z" fill="#d4161c" stroke="#5e0c0c" stroke-width="0.4"/>
<path d="M478.68 87.78L480.13 90.38L477.23 90.38Z" fill="#d4161c" stroke="#5e0c0c" stroke-width="0.4"/>
<path d="M479.30 90.48L480.75 93.08L477.85 93.08Z" fill="#d4161c" stroke="#5e0c0c" stroke-width="0.4"/>
<path d="M484.90 91.93L486.35 94.53L483.45 94.53Z" fill="#d4161c" stroke="#5e0c0c" stroke-width="0.4"/>
<path d="M488.02 90.48L489.47 93.08L486.57 93.08Z" fill="#d4161c" stroke="#5e0c0c" stroke-width="0.4"/>
<path d="M490.09 91.30L491.54 93.90L488.64 93.90Z" fill="#d4161c" stroke="#5e0c0c" stroke-width="0.4"/>
<path d="M492.17 91.93L493.62 94.53L490.72 94.53Z" fill="#d4161c" stroke="#5e0c0c" stroke-width="0.4"/>
<path d="M494.24 90.89L495.69 93.49L492.79 93.49Z" fill="#d4161c" stroke="#5e0c0c" stroke-width="0.4"/>
<path d="M497.35 90.48L498.80 93.08L495.90 93.08Z" fill="#d4161c" stroke="#5e0c0c" stroke-width="0.4"/>
<path d="M500.46 91.30L501.91 93.90L499.01 93.90Z" fill="#d4161c" stroke="#5e0c0c" stroke-width="0.4"/>
<path d="M502.54 91.93L503.99 94.53L501.09 94.53Z" fill="#d4161c" stroke="#5e0c0c" stroke-width="0.4"/>
<path d="M504.61 90.89L506.06 93.49L503.16 93.49Z" fill="#d4161c" stroke="#5e0c0c" stroke-width="0.4"/>
<path d="M506.69 91.30L508.14 93.90L505.24 93.90Z" fill="#d4161c" stroke="#5e0c0c" stroke-width="0.4"/>
<path d="M508.76 90.48L510.21 93.08L507.31 93.08Z" fill="#d4161c" stroke="#5e0c0c" stroke-width="0.4"/>
<path d="M510.84 91.30L512.29 93.90L509.39 93.90Z" fill="#d4161c" stroke="#5e0c0c" stroke-width="0.4"/>
<path d="M512.91 91.93L514.36 94.53L511.46 94.53Z" fill="#d4161c" stroke="#5e0c0c" stroke-width="0.4"/>
<path d="M503.58 90.48L505.03 93.08L502.13 93.08Z" fill="#d4161c" stroke="#5e0c0c" stroke-width="0.4"/>
</g>
<g stroke="#262626" stroke-width="0.9" fill="none">
<line x1="97.50" y1="126.29" x2="97.50" y2="187.50"/>
<line x1="97.50" y1="187.50" x2="189.03" y2="187.50"/>
<line x1="95.00" y1="187.50" x2="97.50" y2="187.50"/>
<line x1="95.00" y1="172.20" x2="97.50" y2="172.20"/>
<line x1="95.00" y1="156.90" x2="97.50" y2="156.90"/>
<line x1="95.00" y1="141.59" x2="97.50" y2="141.59"/>
<line x1="95.00" y1="126.29" x2="97.50" y2="126.29"/>
<line x1="97.50" y1="187.50" x2="97.50" y2="190.00"/>
<line x1="115.81" y1="187.50" x2="115.81" y2="190.00"/>
<line x1="134.11" y1="187.50" x2="134.11" y2="190.00"/>
<line x1="152.42" y1="187.50" x2="152.42" y2="190.00"/>
<line x1="170.72" y1="187.50" x2="170.72" y2="190.00"/>
<line x1="189.03" y1="187.50" x2="189.03" y2="190.00"/>
</g>
<g font-size="4.9" font-weight="bold" fill="#1a1a1a" stroke="#1a1a1a" stroke-width="0.12">
<text x="91.55" y="189.26" textLength="2.5" lengthAdjust="spacingAndGlyphs">0</text>
<text x="91.55" y="173.96" textLength="2.5" lengthAdjust="spacingAndGlyphs">2</text>
<text x="91.55" y="158.66" textLength="2.5" lengthAdjust="spacingAndGlyphs">4</text>
<text x="91.55" y="143.36" textLength="2.5" lengthAdjust="spacingAndGlyphs">6</text>
<text x="91.55" y="128.06" textLength="2.5" lengthAdjust="spacingAndGlyphs">8</text>
<text x="96.22" y="195.20" textLength="2.5" lengthAdjust="spacingAndGlyphs">0</text>
<text x="113.26" y="195.20" textLength="5.1" lengthAdjust="spacingAndGlyphs">20</text>
<text x="131.56" y="195.20" textLength="5.1" lengthAdjust="spacingAndGlyphs">40</text>
<text x="149.87" y="195.20" textLength="5.1" lengthAdjust="spacingAndGlyphs">60</text>
<text x="168.17" y="195.20" textLength="5.1" lengthAdjust="spacingAndGlyphs">80</text>
<text x="185.20" y="195.20" textLength="7.6" lengthAdjust="spacingAndGlyphs">100</text>
</g>
<line x1="129.46" y1="177.35" x2="148.01" y2="183.02" stroke="#f4928a" stroke-width="0.9"/>
<g>
<circle cx="129.02" cy="131.09" r="1.45" fill="#e5121a" stroke="#a00c10" stroke-width="0.35"/>
<circle cx="145.82" cy="163.82" r="1.45" fill="#e5121a" stroke="#a00c10" stroke-width="0.35"/>
<circle cx="157.17" cy="164.26" r="1.45" fill="#e5121a" stroke="#a00c10" stroke-width="0.35"/>
<circle cx="157.39" cy="165.57" r="1.45" fill="#e5121a" stroke="#a00c10" stroke-width="0.35"/>
<circle cx="160.66" cy="167.09" r="1.45" fill="#e5121a" stroke="#a00c10" stroke-width="0.35"/>
<circle cx="160.66" cy="173.64" r="1.45" fill="#e5121a" stroke="#a00c10" stroke-width="0.35"/>
<circle cx="162.84" cy="173.64" r="1.45" fill="#e5121a" stroke="#a00c10" stroke-width="0.35"/>
<circle cx="150.19" cy="175.17" r="1.45" fill="#e5121a" stroke="#a00c10" stroke-width="0.35"/>
<circle cx="151.28" cy="176.48" r="1.45" fill="#e5121a" stroke="#a00c10" stroke-width="0.35"/>
<circle cx="154.55" cy="178.66" r="1.45" fill="#e5121a" stroke="#a00c10" stroke-width="0.35"/>
<circle cx="162.19" cy="179.10" r="1.45" fill="#e5121a" stroke="#a00c10" stroke-width="0.35"/>
<circle cx="134.91" cy="181.28" r="1.45" fill="#e5121a" stroke="#a00c10" stroke-width="0.35"/>
<circle cx="144.08" cy="181.28" r="1.45" fill="#e5121a" stroke="#a00c10" stroke-width="0.35"/>
<circle cx="146.91" cy="181.28" r="1.45" fill="#e5121a" stroke="#a00c10" stroke-width="0.35"/>
<circle cx="150.19" cy="182.37" r="1.45" fill="#e5121a" stroke="#a00c10" stroke-width="0.35"/>
<circle cx="156.73" cy="182.37" r="1.45" fill="#e5121a" stroke="#a00c10" stroke-width="0.35"/>
<circle cx="158.92" cy="181.28" r="1.45" fill="#e5121a" stroke="#a00c10" stroke-width="0.35"/>
<circle cx="169.83" cy="182.37" r="1.45" fill="#e5121a" stroke="#a00c10" stroke-width="0.35"/>
<circle cx="152.81" cy="183.90" r="1.45" fill="#e5121a" stroke="#a00c10" stroke-width="0.35"/>
<circle cx="155.64" cy="183.46" r="1.45" fill="#e5121a" stroke="#a00c10" stroke-width="0.35"/>
<circle cx="157.82" cy="184.55" r="1.45" fill="#e5121a" stroke="#a00c10" stroke-width="0.35"/>
<circle cx="161.10" cy="183.90" r="1.45" fill="#e5121a" stroke="#a00c10" stroke-width="0.35"/>
<circle cx="164.37" cy="184.55" r="1.45" fill="#e5121a" stroke="#a00c10" stroke-width="0.35"/>
<circle cx="136.00" cy="186.73" r="1.45" fill="#e5121a" stroke="#a00c10" stroke-width="0.35"/>
<circle cx="139.28" cy="186.73" r="1.45" fill="#e5121a" stroke="#a00c10" stroke-width="0.35"/>
<circle cx="141.46" cy="186.73" r="1.45" fill="#e5121a" stroke="#a00c10" stroke-width="0.35"/>
<circle cx="143.64" cy="185.64" r="1.45" fill="#e5121a" stroke="#a00c10" stroke-width="0.35"/>
<circle cx="145.82" cy="186.08" r="1.45" fill="#e5121a" stroke="#a00c10" stroke-width="0.35"/>
<circle cx="148.01" cy="186.73" r="1.45" fill="#e5121a" stroke="#a00c10" stroke-width="0.35"/>
<circle cx="149.10" cy="185.64" r="1.45" fill="#e5121a" stroke="#a00c10" stroke-width="0.35"/>
<circle cx="151.28" cy="186.73" r="1.45" fill="#e5121a" stroke="#a00c10" stroke-width="0.35"/>
<circle cx="153.46" cy="185.64" r="1.45" fill="#e5121a" stroke="#a00c10" stroke-width="0.35"/>
<circle cx="154.55" cy="186.73" r="1.45" fill="#e5121a" stroke="#a00c10" stroke-width="0.35"/>
<circle cx="156.73" cy="186.08" r="1.45" fill="#e5121a" stroke="#a00c10" stroke-width="0.35"/>
<circle cx="158.92" cy="186.73" r="1.45" fill="#e5121a" stroke="#a00c10" stroke-width="0.35"/>
<circle cx="162.19" cy="186.08" r="1.45" fill="#e5121a" stroke="#a00c10" stroke-width="0.35"/>
<circle cx="165.46" cy="186.73" r="1.45" fill="#e5121a" stroke="#a00c10" stroke-width="0.35"/>
<circle cx="167.64" cy="186.73" r="1.45" fill="#e5121a" stroke="#a00c10" stroke-width="0.35"/>
<circle cx="172.01" cy="186.73" r="1.45" fill="#e5121a" stroke="#a00c10" stroke-width="0.35"/>
<circle cx="141.46" cy="187.39" r="1.45" fill="#e5121a" stroke="#a00c10" stroke-width="0.35"/>
<circle cx="144.73" cy="187.39" r="1.45" fill="#e5121a" stroke="#a00c10" stroke-width="0.35"/>
<circle cx="150.19" cy="187.39" r="1.45" fill="#e5121a" stroke="#a00c10" stroke-width="0.35"/>
<circle cx="156.73" cy="187.39" r="1.45" fill="#e5121a" stroke="#a00c10" stroke-width="0.35"/>
</g>
<text transform="translate(87.3,156.8) rotate(-90)" x="-24.0" y="2" font-size="5.2" font-weight="bold" fill="#333" textLength="48" lengthAdjust="spacingAndGlyphs">GR (mU/mg protein)</text>
<g stroke="#262626" stroke-width="0.9" fill="none">
<line x1="213.50" y1="124.00" x2="213.50" y2="187.50"/>
<line x1="213.50" y1="187.50" x2="308.00" y2="187.50"/>
<line x1="211.00" y1="187.50" x2="213.50" y2="187.50"/>
<line x1="211.00" y1="171.62" x2="213.50" y2="171.62"/>
<line x1="211.00" y1="155.75" x2="213.50" y2="155.75"/>
<line x1="211.00" y1="139.88" x2="213.50" y2="139.88"/>
<line x1="211.00" y1="124.00" x2="213.50" y2="124.00"/>
<line x1="213.50" y1="187.50" x2="213.50" y2="190.00"/>
<line x1="232.40" y1="187.50" x2="232.40" y2="190.00"/>
<line x1="251.30" y1="187.50" x2="251.30" y2="190.00"/>
<line x1="270.20" y1="187.50" x2="270.20" y2="190.00"/>
<line x1="289.10" y1="187.50" x2="289.10" y2="190.00"/>
<line x1="308.00" y1="187.50" x2="308.00" y2="190.00"/>
</g>
<g font-size="4.9" font-weight="bold" fill="#1a1a1a" stroke="#1a1a1a" stroke-width="0.12">
<text x="207.55" y="189.26" textLength="2.5" lengthAdjust="spacingAndGlyphs">0</text>
<text x="207.55" y="173.39" textLength="2.5" lengthAdjust="spacingAndGlyphs">5</text>
<text x="205.00" y="157.51" textLength="5.1" lengthAdjust="spacingAndGlyphs">10</text>
<text x="205.00" y="141.64" textLength="5.1" lengthAdjust="spacingAndGlyphs">15</text>
<text x="205.00" y="125.76" textLength="5.1" lengthAdjust="spacingAndGlyphs">20</text>
<text x="212.22" y="195.20" textLength="2.5" lengthAdjust="spacingAndGlyphs">0</text>
<text x="229.85" y="195.20" textLength="5.1" lengthAdjust="spacingAndGlyphs">20</text>
<text x="248.75" y="195.20" textLength="5.1" lengthAdjust="spacingAndGlyphs">40</text>
<text x="267.65" y="195.20" textLength="5.1" lengthAdjust="spacingAndGlyphs">60</text>
<text x="286.55" y="195.20" textLength="5.1" lengthAdjust="spacingAndGlyphs">80</text>
<text x="304.18" y="195.20" textLength="7.6" lengthAdjust="spacingAndGlyphs">100</text>
</g>
<line x1="248.00" y1="186.00" x2="291.00" y2="167.60" stroke="#8a8a8a" stroke-width="0.9"/>
<g>
<path d="M283.60 139.50L285.10 141.00L283.60 142.50L282.10 141.00Z" fill="#cccc00" stroke="#858000" stroke-width="0.4"/>
<path d="M275.60 144.10L277.10 145.60L275.60 147.10L274.10 145.60Z" fill="#cccc00" stroke="#858000" stroke-width="0.4"/>
<path d="M286.40 147.50L287.90 149.00L286.40 150.50L284.90 149.00Z" fill="#cccc00" stroke="#858000" stroke-width="0.4"/>
<path d="M277.60 148.50L279.10 150.00L277.60 151.50L276.10 150.00Z" fill="#cccc00" stroke="#858000" stroke-width="0.4"/>
<path d="M271.00 152.10L272.50 153.60L271.00 155.10L269.50 153.60Z" fill="#cccc00" stroke="#858000" stroke-width="0.4"/>
<path d="M276.60 152.10L278.10 153.60L276.60 155.10L275.10 153.60Z" fill="#cccc00" stroke="#858000" stroke-width="0.4"/>
<path d="M276.60 154.10L278.10 155.60L276.60 157.10L275.10 155.60Z" fill="#cccc00" stroke="#858000" stroke-width="0.4"/>
<path d="M278.60 158.50L280.10 160.00L278.60 161.50L277.10 160.00Z" fill="#cccc00" stroke="#858000" stroke-width="0.4"/>
<path d="M267.00 163.50L268.50 165.00L267.00 166.50L265.50 165.00Z" fill="#cccc00" stroke="#858000" stroke-width="0.4"/>
<path d="M257.00 166.50L258.50 168.00L257.00 169.50L255.50 168.00Z" fill="#cccc00" stroke="#858000" stroke-width="0.4"/>
<path d="M270.00 166.50L271.50 168.00L270.00 169.50L268.50 168.00Z" fill="#cccc00" stroke="#858000" stroke-width="0.4"/>
<path d="M285.60 165.10L287.10 166.60L285.60 168.10L284.10 166.60Z" fill="#cccc00" stroke="#858000" stroke-width="0.4"/>
<path d="M276.60 170.10L278.10 171.60L276.60 173.10L275.10 171.60Z" fill="#cccc00" stroke="#858000" stroke-width="0.4"/>
<path d="M271.00 171.50L272.50 173.00L271.00 174.50L269.50 173.00Z" fill="#cccc00" stroke="#858000" stroke-width="0.4"/>
<path d="M266.60 173.50L268.10 175.00L266.60 176.50L265.10 175.00Z" fill="#cccc00" stroke="#858000" stroke-width="0.4"/>
<path d="M269.00 174.90L270.50 176.40L269.00 177.90L267.50 176.40Z" fill="#cccc00" stroke="#858000" stroke-width="0.4"/>
<path d="M283.60 174.10L285.10 175.60L283.60 177.10L282.10 175.60Z" fill="#cccc00" stroke="#858000" stroke-width="0.4"/>
<path d="M291.60 172.90L293.10 174.40L291.60 175.90L290.10 174.40Z" fill="#cccc00" stroke="#858000" stroke-width="0.4"/>
<path d="M251.20 177.50L252.70 179.00L251.20 180.50L249.70 179.00Z" fill="#cccc00" stroke="#858000" stroke-width="0.4"/>
<path d="M248.00 181.50L249.50 183.00L248.00 184.50L246.50 183.00Z" fill="#cccc00" stroke="#858000" stroke-width="0.4"/>
<path d="M251.60 181.50L253.10 183.00L251.60 184.50L250.10 183.00Z" fill="#cccc00" stroke="#858000" stroke-width="0.4"/>
<path d="M261.00 180.10L262.50 181.60L261.00 183.10L259.50 181.60Z" fill="#cccc00" stroke="#858000" stroke-width="0.4"/>
<path d="M260.00 181.50L261.50 183.00L260.00 184.50L258.50 183.00Z" fill="#cccc00" stroke="#858000" stroke-width="0.4"/>
<path d="M262.40 180.90L263.90 182.40L262.40 183.90L260.90 182.40Z" fill="#cccc00" stroke="#858000" stroke-width="0.4"/>
<path d="M268.00 182.50L269.50 184.00L268.00 185.50L266.50 184.00Z" fill="#cccc00" stroke="#858000" stroke-width="0.4"/>
<path d="M275.00 181.50L276.50 183.00L275.00 184.50L273.50 183.00Z" fill="#cccc00" stroke="#858000" stroke-width="0.4"/>
<path d="M278.00 181.50L279.50 183.00L278.00 184.50L276.50 183.00Z" fill="#cccc00" stroke="#858000" stroke-width="0.4"/>
<path d="M242.40 185.90L243.90 187.40L242.40 188.90L240.90 187.40Z" fill="#cccc00" stroke="#858000" stroke-width="0.4"/>
<path d="M250.00 185.90L251.50 187.40L250.00 188.90L248.50 187.40Z" fill="#cccc00" stroke="#858000" stroke-width="0.4"/>
<path d="M258.00 185.90L259.50 187.40L258.00 188.90L256.50 187.40Z" fill="#cccc00" stroke="#858000" stroke-width="0.4"/>
<path d="M262.00 185.90L263.50 187.40L262.00 188.90L260.50 187.40Z" fill="#cccc00" stroke="#858000" stroke-width="0.4"/>
<path d="M264.00 185.90L265.50 187.40L264.00 188.90L262.50 187.40Z" fill="#cccc00" stroke="#858000" stroke-width="0.4"/>
<path d="M267.00 185.90L268.50 187.40L267.00 188.90L265.50 187.40Z" fill="#cccc00" stroke="#858000" stroke-width="0.4"/>
<path d="M269.00 185.90L270.50 187.40L269.00 188.90L267.50 187.40Z" fill="#cccc00" stroke="#858000" stroke-width="0.4"/>
<path d="M271.00 185.90L272.50 187.40L271.00 188.90L269.50 187.40Z" fill="#cccc00" stroke="#858000" stroke-width="0.4"/>
<path d="M273.60 185.90L275.10 187.40L273.60 188.90L272.10 187.40Z" fill="#cccc00" stroke="#858000" stroke-width="0.4"/>
<path d="M275.00 185.90L276.50 187.40L275.00 188.90L273.50 187.40Z" fill="#cccc00" stroke="#858000" stroke-width="0.4"/>
<path d="M279.00 185.90L280.50 187.40L279.00 188.90L277.50 187.40Z" fill="#cccc00" stroke="#858000" stroke-width="0.4"/>
<path d="M281.00 185.90L282.50 187.40L281.00 188.90L279.50 187.40Z" fill="#cccc00" stroke="#858000" stroke-width="0.4"/>
<path d="M283.60 185.90L285.10 187.40L283.60 188.90L282.10 187.40Z" fill="#cccc00" stroke="#858000" stroke-width="0.4"/>
</g>
<g stroke="#262626" stroke-width="0.9" fill="none">
<line x1="328.50" y1="125.60" x2="328.50" y2="186.50"/>
<line x1="328.50" y1="186.50" x2="420.00" y2="186.50"/>
<line x1="326.00" y1="186.50" x2="328.50" y2="186.50"/>
<line x1="326.00" y1="174.32" x2="328.50" y2="174.32"/>
<line x1="326.00" y1="162.14" x2="328.50" y2="162.14"/>
<line x1="326.00" y1="149.96" x2="328.50" y2="149.96"/>
<line x1="326.00" y1="137.78" x2="328.50" y2="137.78"/>
<line x1="326.00" y1="125.60" x2="328.50" y2="125.60"/>
<line x1="328.50" y1="186.50" x2="328.50" y2="189.00"/>
<line x1="346.80" y1="186.50" x2="346.80" y2="189.00"/>
<line x1="365.10" y1="186.50" x2="365.10" y2="189.00"/>
<line x1="383.40" y1="186.50" x2="383.40" y2="189.00"/>
<line x1="401.70" y1="186.50" x2="401.70" y2="189.00"/>
<line x1="420.00" y1="186.50" x2="420.00" y2="189.00"/>
</g>
<g font-size="4.9" font-weight="bold" fill="#1a1a1a" stroke="#1a1a1a" stroke-width="0.12">
<text x="318.75" y="188.26" textLength="6.3" lengthAdjust="spacingAndGlyphs">0.0</text>
<text x="318.75" y="176.08" textLength="6.3" lengthAdjust="spacingAndGlyphs">0.5</text>
<text x="318.75" y="163.90" textLength="6.3" lengthAdjust="spacingAndGlyphs">1.0</text>
<text x="318.75" y="151.72" textLength="6.3" lengthAdjust="spacingAndGlyphs">1.5</text>
<text x="318.75" y="139.54" textLength="6.3" lengthAdjust="spacingAndGlyphs">2.0</text>
<text x="318.75" y="127.36" textLength="6.3" lengthAdjust="spacingAndGlyphs">2.5</text>
<text x="327.23" y="194.20" textLength="2.5" lengthAdjust="spacingAndGlyphs">0</text>
<text x="344.25" y="194.20" textLength="5.1" lengthAdjust="spacingAndGlyphs">20</text>
<text x="362.55" y="194.20" textLength="5.1" lengthAdjust="spacingAndGlyphs">40</text>
<text x="380.85" y="194.20" textLength="5.1" lengthAdjust="spacingAndGlyphs">60</text>
<text x="399.15" y="194.20" textLength="5.1" lengthAdjust="spacingAndGlyphs">80</text>
<text x="416.18" y="194.20" textLength="7.6" lengthAdjust="spacingAndGlyphs">100</text>
</g>
<line x1="364.00" y1="176.40" x2="403.60" y2="181.60" stroke="#999" stroke-width="0.9"/>
<g>
<rect x="378.10" y="136.50" width="3" height="3" fill="#c0121a" stroke="#5a0b0d" stroke-width="0.45"/>
<rect x="381.10" y="140.10" width="3" height="3" fill="#c0121a" stroke="#5a0b0d" stroke-width="0.45"/>
<rect x="380.50" y="142.50" width="3" height="3" fill="#c0121a" stroke="#5a0b0d" stroke-width="0.45"/>
<rect x="375.50" y="157.50" width="3" height="3" fill="#c0121a" stroke="#5a0b0d" stroke-width="0.45"/>
<rect x="384.10" y="162.10" width="3" height="3" fill="#c0121a" stroke="#5a0b0d" stroke-width="0.45"/>
<rect x="384.50" y="166.10" width="3" height="3" fill="#c0121a" stroke="#5a0b0d" stroke-width="0.45"/>
<rect x="372.50" y="168.10" width="3" height="3" fill="#c0121a" stroke="#5a0b0d" stroke-width="0.45"/>
<rect x="390.10" y="167.50" width="3" height="3" fill="#c0121a" stroke="#5a0b0d" stroke-width="0.45"/>
<rect x="386.50" y="168.90" width="3" height="3" fill="#c0121a" stroke="#5a0b0d" stroke-width="0.45"/>
<rect x="382.90" y="170.10" width="3" height="3" fill="#c0121a" stroke="#5a0b0d" stroke-width="0.45"/>
<rect x="378.90" y="177.50" width="3" height="3" fill="#c0121a" stroke="#5a0b0d" stroke-width="0.45"/>
<rect x="368.90" y="179.50" width="3" height="3" fill="#c0121a" stroke="#5a0b0d" stroke-width="0.45"/>
<rect x="362.50" y="183.50" width="3" height="3" fill="#c0121a" stroke="#5a0b0d" stroke-width="0.45"/>
<rect x="368.90" y="184.10" width="3" height="3" fill="#c0121a" stroke="#5a0b0d" stroke-width="0.45"/>
<rect x="373.50" y="181.50" width="3" height="3" fill="#c0121a" stroke="#5a0b0d" stroke-width="0.45"/>
<rect x="374.50" y="180.50" width="3" height="3" fill="#c0121a" stroke="#5a0b0d" stroke-width="0.45"/>
<rect x="376.50" y="182.50" width="3" height="3" fill="#c0121a" stroke="#5a0b0d" stroke-width="0.45"/>
<rect x="378.10" y="181.50" width="3" height="3" fill="#c0121a" stroke="#5a0b0d" stroke-width="0.45"/>
<rect x="380.50" y="182.50" width="3" height="3" fill="#c0121a" stroke="#5a0b0d" stroke-width="0.45"/>
<rect x="382.50" y="180.90" width="3" height="3" fill="#c0121a" stroke="#5a0b0d" stroke-width="0.45"/>
<rect x="385.50" y="182.50" width="3" height="3" fill="#c0121a" stroke="#5a0b0d" stroke-width="0.45"/>
<rect x="387.50" y="181.50" width="3" height="3" fill="#c0121a" stroke="#5a0b0d" stroke-width="0.45"/>
<rect x="388.90" y="180.10" width="3" height="3" fill="#c0121a" stroke="#5a0b0d" stroke-width="0.45"/>
<rect x="390.50" y="182.50" width="3" height="3" fill="#c0121a" stroke="#5a0b0d" stroke-width="0.45"/>
<rect x="392.50" y="183.50" width="3" height="3" fill="#c0121a" stroke="#5a0b0d" stroke-width="0.45"/>
<rect x="394.50" y="181.50" width="3" height="3" fill="#c0121a" stroke="#5a0b0d" stroke-width="0.45"/>
<rect x="396.50" y="182.50" width="3" height="3" fill="#c0121a" stroke="#5a0b0d" stroke-width="0.45"/>
<rect x="372.50" y="184.10" width="3" height="3" fill="#c0121a" stroke="#5a0b0d" stroke-width="0.45"/>
<rect x="375.50" y="184.50" width="3" height="3" fill="#c0121a" stroke="#5a0b0d" stroke-width="0.45"/>
<rect x="381.50" y="184.50" width="3" height="3" fill="#c0121a" stroke="#5a0b0d" stroke-width="0.45"/>
<rect x="389.50" y="184.90" width="3" height="3" fill="#c0121a" stroke="#5a0b0d" stroke-width="0.45"/>
<rect x="401.50" y="185.50" width="3" height="3" fill="#c0121a" stroke="#5a0b0d" stroke-width="0.45"/>
</g>
<g stroke="#262626" stroke-width="0.9" fill="none">
<line x1="444.50" y1="124.64" x2="444.50" y2="186.50"/>
<line x1="444.50" y1="186.50" x2="533.66" y2="186.50"/>
<line x1="442.00" y1="186.50" x2="444.50" y2="186.50"/>
<line x1="442.00" y1="171.03" x2="444.50" y2="171.03"/>
<line x1="442.00" y1="155.57" x2="444.50" y2="155.57"/>
<line x1="442.00" y1="140.10" x2="444.50" y2="140.10"/>
<line x1="442.00" y1="124.64" x2="444.50" y2="124.64"/>
<line x1="444.50" y1="186.50" x2="444.50" y2="189.00"/>
<line x1="462.33" y1="186.50" x2="462.33" y2="189.00"/>
<line x1="480.16" y1="186.50" x2="480.16" y2="189.00"/>
<line x1="498.00" y1="186.50" x2="498.00" y2="189.00"/>
<line x1="515.83" y1="186.50" x2="515.83" y2="189.00"/>
<line x1="533.66" y1="186.50" x2="533.66" y2="189.00"/>
</g>
<g font-size="4.9" font-weight="bold" fill="#1a1a1a" stroke="#1a1a1a" stroke-width="0.12">
<text x="438.55" y="188.26" textLength="2.5" lengthAdjust="spacingAndGlyphs">0</text>
<text x="438.55" y="172.80" textLength="2.5" lengthAdjust="spacingAndGlyphs">1</text>
<text x="438.55" y="157.33" textLength="2.5" lengthAdjust="spacingAndGlyphs">2</text>
<text x="438.55" y="141.87" textLength="2.5" lengthAdjust="spacingAndGlyphs">3</text>
<text x="438.55" y="126.40" textLength="2.5" lengthAdjust="spacingAndGlyphs">4</text>
<text x="443.23" y="194.20" textLength="2.5" lengthAdjust="spacingAndGlyphs">0</text>
<text x="459.78" y="194.20" textLength="5.1" lengthAdjust="spacingAndGlyphs">20</text>
<text x="477.61" y="194.20" textLength="5.1" lengthAdjust="spacingAndGlyphs">40</text>
<text x="495.45" y="194.20" textLength="5.1" lengthAdjust="spacingAndGlyphs">60</text>
<text x="513.28" y="194.20" textLength="5.1" lengthAdjust="spacingAndGlyphs">80</text>
<text x="529.83" y="194.20" textLength="7.6" lengthAdjust="spacingAndGlyphs">100</text>
</g>
<line x1="471.42" y1="183.35" x2="517.48" y2="178.58" stroke="#222" stroke-width="0.9"/>
<line x1="471.42" y1="185.43" x2="517.48" y2="184.80" stroke="#222" stroke-width="0.9"/>
<g>
<path d="M504.61 126.87L506.06 129.47L503.16 129.47Z" fill="#d4161c" stroke="#5e0c0c" stroke-width="0.4"/>
<path d="M501.09 143.47L502.54 146.07L499.64 146.07Z" fill="#d4161c" stroke="#5e0c0c" stroke-width="0.4"/>
<path d="M503.58 143.47L505.03 146.07L502.13 146.07Z" fill="#d4161c" stroke="#5e0c0c" stroke-width="0.4"/>
<path d="M501.09 157.99L502.54 160.59L499.64 160.59Z" fill="#d4161c" stroke="#5e0c0c" stroke-width="0.4"/>
<path d="M489.68 160.69L491.13 163.29L488.23 163.29Z" fill="#d4161c" stroke="#5e0c0c" stroke-width="0.4"/>
<path d="M496.73 162.56L498.18 165.16L495.28 165.16Z" fill="#d4161c" stroke="#5e0c0c" stroke-width="0.4"/>
<path d="M497.56 168.37L499.01 170.97L496.11 170.97Z" fill="#d4161c" stroke="#5e0c0c" stroke-width="0.4"/>
<path d="M500.46 175.63L501.91 178.23L499.01 178.23Z" fill="#d4161c" stroke="#5e0c0c" stroke-width="0.4"/>
<path d="M472.46 183.30L473.91 185.90L471.01 185.90Z" fill="#d4161c" stroke="#5e0c0c" stroke-width="0.4"/>
<path d="M476.61 182.89L478.06 185.49L475.16 185.49Z" fill="#d4161c" stroke="#5e0c0c" stroke-width="0.4"/>
<path d="M478.68 182.48L480.13 185.08L477.23 185.08Z" fill="#d4161c" stroke="#5e0c0c" stroke-width="0.4"/>
<path d="M485.53 182.89L486.98 185.49L484.08 185.49Z" fill="#d4161c" stroke="#5e0c0c" stroke-width="0.4"/>
<path d="M486.98 181.85L488.43 184.45L485.53 184.45Z" fill="#d4161c" stroke="#5e0c0c" stroke-width="0.4"/>
<path d="M489.05 183.30L490.50 185.90L487.60 185.90Z" fill="#d4161c" stroke="#5e0c0c" stroke-width="0.4"/>
<path d="M490.51 182.48L491.96 185.08L489.06 185.08Z" fill="#d4161c" stroke="#5e0c0c" stroke-width="0.4"/>
<path d="M492.17 182.89L493.62 185.49L490.72 185.49Z" fill="#d4161c" stroke="#5e0c0c" stroke-width="0.4"/>
<path d="M494.24 181.85L495.69 184.45L492.79 184.45Z" fill="#d4161c" stroke="#5e0c0c" stroke-width="0.4"/>
<path d="M496.32 183.30L497.77 185.90L494.87 185.90Z" fill="#d4161c" stroke="#5e0c0c" stroke-width="0.4"/>
<path d="M497.98 182.48L499.43 185.08L496.53 185.08Z" fill="#d4161c" stroke="#5e0c0c" stroke-width="0.4"/>
<path d="M499.43 183.30L500.88 185.90L497.98 185.90Z" fill="#d4161c" stroke="#5e0c0c" stroke-width="0.4"/>
<path d="M502.54 183.30L503.99 185.90L501.09 185.90Z" fill="#d4161c" stroke="#5e0c0c" stroke-width="0.4"/>
<path d="M504.61 182.48L506.06 185.08L503.16 185.08Z" fill="#d4161c" stroke="#5e0c0c" stroke-width="0.4"/>
<path d="M506.69 183.30L508.14 185.90L505.24 185.90Z" fill="#d4161c" stroke="#5e0c0c" stroke-width="0.4"/>
<path d="M508.76 182.48L510.21 185.08L507.31 185.08Z" fill="#d4161c" stroke="#5e0c0c" stroke-width="0.4"/>
<path d="M510.84 183.30L512.29 185.90L509.39 185.90Z" fill="#d4161c" stroke="#5e0c0c" stroke-width="0.4"/>
<path d="M517.48 183.93L518.93 186.53L516.03 186.53Z" fill="#d4161c" stroke="#5e0c0c" stroke-width="0.4"/>
<path d="M488.02 183.93L489.47 186.53L486.57 186.53Z" fill="#d4161c" stroke="#5e0c0c" stroke-width="0.4"/>
<path d="M493.20 184.13L494.65 186.73L491.75 186.73Z" fill="#d4161c" stroke="#5e0c0c" stroke-width="0.4"/>
<path d="M498.39 184.55L499.84 187.15L496.94 187.15Z" fill="#d4161c" stroke="#5e0c0c" stroke-width="0.4"/>
<path d="M503.58 184.13L505.03 186.73L502.13 186.73Z" fill="#d4161c" stroke="#5e0c0c" stroke-width="0.4"/>
</g>
<g stroke="#262626" stroke-width="0.9" fill="none">
<line x1="98.50" y1="215.36" x2="98.50" y2="278.50"/>
<line x1="98.50" y1="278.50" x2="193.83" y2="278.50"/>
<line x1="96.00" y1="278.50" x2="98.50" y2="278.50"/>
<line x1="96.00" y1="262.72" x2="98.50" y2="262.72"/>
<line x1="96.00" y1="246.93" x2="98.50" y2="246.93"/>
<line x1="96.00" y1="231.15" x2="98.50" y2="231.15"/>
<line x1="96.00" y1="215.36" x2="98.50" y2="215.36"/>
<line x1="98.50" y1="278.50" x2="98.50" y2="281.00"/>
<line x1="117.57" y1="278.50" x2="117.57" y2="281.00"/>
<line x1="136.63" y1="278.50" x2="136.63" y2="281.00"/>
<line x1="155.70" y1="278.50" x2="155.70" y2="281.00"/>
<line x1="174.76" y1="278.50" x2="174.76" y2="281.00"/>
<line x1="193.83" y1="278.50" x2="193.83" y2="281.00"/>
</g>
<g font-size="4.9" font-weight="bold" fill="#1a1a1a" stroke="#1a1a1a" stroke-width="0.12">
<text x="86.20" y="280.26" textLength="8.9" lengthAdjust="spacingAndGlyphs">0.00</text>
<text x="86.20" y="264.48" textLength="8.9" lengthAdjust="spacingAndGlyphs">0.05</text>
<text x="86.20" y="248.70" textLength="8.9" lengthAdjust="spacingAndGlyphs">0.10</text>
<text x="86.20" y="232.91" textLength="8.9" lengthAdjust="spacingAndGlyphs">0.15</text>
<text x="86.20" y="217.13" textLength="8.9" lengthAdjust="spacingAndGlyphs">0.20</text>
<text x="97.22" y="286.20" textLength="2.5" lengthAdjust="spacingAndGlyphs">0</text>
<text x="115.02" y="286.20" textLength="5.1" lengthAdjust="spacingAndGlyphs">20</text>
<text x="134.08" y="286.20" textLength="5.1" lengthAdjust="spacingAndGlyphs">40</text>
<text x="153.15" y="286.20" textLength="5.1" lengthAdjust="spacingAndGlyphs">60</text>
<text x="172.21" y="286.20" textLength="5.1" lengthAdjust="spacingAndGlyphs">80</text>
<text x="190.00" y="286.20" textLength="7.6" lengthAdjust="spacingAndGlyphs">100</text>
</g>
<line x1="127.28" y1="267.30" x2="187.28" y2="249.84" stroke="#9a9a9a" stroke-width="0.9"/>
<g>
<circle cx="187.28" cy="273.84" r="1.45" fill="#e5121a" stroke="#a00c10" stroke-width="0.35"/>
<circle cx="147.86" cy="220.22" r="1.45" fill="#e5121a" stroke="#a00c10" stroke-width="0.35"/>
<circle cx="162.17" cy="228.56" r="1.45" fill="#e5121a" stroke="#a00c10" stroke-width="0.35"/>
<circle cx="150.64" cy="232.44" r="1.45" fill="#e5121a" stroke="#a00c10" stroke-width="0.35"/>
<circle cx="152.44" cy="232.72" r="1.45" fill="#e5121a" stroke="#a00c10" stroke-width="0.35"/>
<circle cx="170.50" cy="236.33" r="1.45" fill="#e5121a" stroke="#a00c10" stroke-width="0.35"/>
<circle cx="141.89" cy="239.39" r="1.45" fill="#e5121a" stroke="#a00c10" stroke-width="0.35"/>
<circle cx="148.83" cy="238.69" r="1.45" fill="#e5121a" stroke="#a00c10" stroke-width="0.35"/>
<circle cx="158.97" cy="240.08" r="1.45" fill="#e5121a" stroke="#a00c10" stroke-width="0.35"/>
<circle cx="160.78" cy="240.78" r="1.45" fill="#e5121a" stroke="#a00c10" stroke-width="0.35"/>
<circle cx="162.44" cy="242.17" r="1.45" fill="#e5121a" stroke="#a00c10" stroke-width="0.35"/>
<circle cx="167.31" cy="242.86" r="1.45" fill="#e5121a" stroke="#a00c10" stroke-width="0.35"/>
<circle cx="155.22" cy="244.25" r="1.45" fill="#e5121a" stroke="#a00c10" stroke-width="0.35"/>
<circle cx="155.22" cy="246.33" r="1.45" fill="#e5121a" stroke="#a00c10" stroke-width="0.35"/>
<circle cx="162.44" cy="244.25" r="1.45" fill="#e5121a" stroke="#a00c10" stroke-width="0.35"/>
<circle cx="159.67" cy="246.33" r="1.45" fill="#e5121a" stroke="#a00c10" stroke-width="0.35"/>
<circle cx="161.75" cy="247.03" r="1.45" fill="#e5121a" stroke="#a00c10" stroke-width="0.35"/>
<circle cx="167.72" cy="246.33" r="1.45" fill="#e5121a" stroke="#a00c10" stroke-width="0.35"/>
<circle cx="167.31" cy="250.50" r="1.45" fill="#e5121a" stroke="#a00c10" stroke-width="0.35"/>
<circle cx="147.86" cy="249.81" r="1.45" fill="#e5121a" stroke="#a00c10" stroke-width="0.35"/>
<circle cx="147.44" cy="251.61" r="1.45" fill="#e5121a" stroke="#a00c10" stroke-width="0.35"/>
<circle cx="150.64" cy="249.81" r="1.45" fill="#e5121a" stroke="#a00c10" stroke-width="0.35"/>
<circle cx="151.33" cy="250.78" r="1.45" fill="#e5121a" stroke="#a00c10" stroke-width="0.35"/>
<circle cx="157.58" cy="249.81" r="1.45" fill="#e5121a" stroke="#a00c10" stroke-width="0.35"/>
<circle cx="152.44" cy="253.28" r="1.45" fill="#e5121a" stroke="#a00c10" stroke-width="0.35"/>
<circle cx="154.39" cy="254.39" r="1.45" fill="#e5121a" stroke="#a00c10" stroke-width="0.35"/>
<circle cx="159.67" cy="252.58" r="1.45" fill="#e5121a" stroke="#a00c10" stroke-width="0.35"/>
<circle cx="161.75" cy="253.28" r="1.45" fill="#e5121a" stroke="#a00c10" stroke-width="0.35"/>
<circle cx="158.56" cy="254.94" r="1.45" fill="#e5121a" stroke="#a00c10" stroke-width="0.35"/>
<circle cx="165.22" cy="258.83" r="1.45" fill="#e5121a" stroke="#a00c10" stroke-width="0.35"/>
<circle cx="166.89" cy="258.14" r="1.45" fill="#e5121a" stroke="#a00c10" stroke-width="0.35"/>
<circle cx="169.67" cy="258.14" r="1.45" fill="#e5121a" stroke="#a00c10" stroke-width="0.35"/>
<circle cx="157.58" cy="257.17" r="1.45" fill="#e5121a" stroke="#a00c10" stroke-width="0.35"/>
<circle cx="155.22" cy="258.83" r="1.45" fill="#e5121a" stroke="#a00c10" stroke-width="0.35"/>
<circle cx="152.44" cy="260.50" r="1.45" fill="#e5121a" stroke="#a00c10" stroke-width="0.35"/>
<circle cx="162.72" cy="264.39" r="1.45" fill="#e5121a" stroke="#a00c10" stroke-width="0.35"/>
<circle cx="163.56" cy="265.08" r="1.45" fill="#e5121a" stroke="#a00c10" stroke-width="0.35"/>
<circle cx="145.08" cy="263.00" r="1.45" fill="#e5121a" stroke="#a00c10" stroke-width="0.35"/>
<circle cx="146.47" cy="265.08" r="1.45" fill="#e5121a" stroke="#a00c10" stroke-width="0.35"/>
<circle cx="130.78" cy="266.89" r="1.45" fill="#e5121a" stroke="#a00c10" stroke-width="0.35"/>
<circle cx="135.78" cy="266.06" r="1.45" fill="#e5121a" stroke="#a00c10" stroke-width="0.35"/>
<circle cx="133.28" cy="268.28" r="1.45" fill="#e5121a" stroke="#a00c10" stroke-width="0.35"/>
<circle cx="127.03" cy="272.44" r="1.45" fill="#e5121a" stroke="#a00c10" stroke-width="0.35"/>
<circle cx="132.58" cy="270.22" r="1.45" fill="#e5121a" stroke="#a00c10" stroke-width="0.35"/>
<circle cx="135.36" cy="272.44" r="1.45" fill="#e5121a" stroke="#a00c10" stroke-width="0.35"/>
<circle cx="134.94" cy="273.83" r="1.45" fill="#e5121a" stroke="#a00c10" stroke-width="0.35"/>
<circle cx="137.44" cy="269.67" r="1.45" fill="#e5121a" stroke="#a00c10" stroke-width="0.35"/>
<circle cx="139.53" cy="269.94" r="1.45" fill="#e5121a" stroke="#a00c10" stroke-width="0.35"/>
<circle cx="141.61" cy="271.33" r="1.45" fill="#e5121a" stroke="#a00c10" stroke-width="0.35"/>
<circle cx="142.31" cy="273.83" r="1.45" fill="#e5121a" stroke="#a00c10" stroke-width="0.35"/>
<circle cx="144.39" cy="270.64" r="1.45" fill="#e5121a" stroke="#a00c10" stroke-width="0.35"/>
<circle cx="145.78" cy="268.28" r="1.45" fill="#e5121a" stroke="#a00c10" stroke-width="0.35"/>
<circle cx="147.17" cy="272.44" r="1.45" fill="#e5121a" stroke="#a00c10" stroke-width="0.35"/>
<circle cx="148.56" cy="271.33" r="1.45" fill="#e5121a" stroke="#a00c10" stroke-width="0.35"/>
<circle cx="149.94" cy="268.56" r="1.45" fill="#e5121a" stroke="#a00c10" stroke-width="0.35"/>
<circle cx="151.33" cy="269.25" r="1.45" fill="#e5121a" stroke="#a00c10" stroke-width="0.35"/>
<circle cx="153.42" cy="268.56" r="1.45" fill="#e5121a" stroke="#a00c10" stroke-width="0.35"/>
<circle cx="154.81" cy="269.94" r="1.45" fill="#e5121a" stroke="#a00c10" stroke-width="0.35"/>
<circle cx="152.44" cy="271.06" r="1.45" fill="#e5121a" stroke="#a00c10" stroke-width="0.35"/>
<circle cx="156.19" cy="272.72" r="1.45" fill="#e5121a" stroke="#a00c10" stroke-width="0.35"/>
<circle cx="159.39" cy="269.25" r="1.45" fill="#e5121a" stroke="#a00c10" stroke-width="0.35"/>
<circle cx="160.36" cy="270.64" r="1.45" fill="#e5121a" stroke="#a00c10" stroke-width="0.35"/>
<circle cx="159.67" cy="273.42" r="1.45" fill="#e5121a" stroke="#a00c10" stroke-width="0.35"/>
<circle cx="162.72" cy="269.94" r="1.45" fill="#e5121a" stroke="#a00c10" stroke-width="0.35"/>
<circle cx="163.83" cy="272.03" r="1.45" fill="#e5121a" stroke="#a00c10" stroke-width="0.35"/>
<circle cx="165.22" cy="273.00" r="1.45" fill="#e5121a" stroke="#a00c10" stroke-width="0.35"/>
<circle cx="166.89" cy="274.11" r="1.45" fill="#e5121a" stroke="#a00c10" stroke-width="0.35"/>
<circle cx="168.00" cy="272.72" r="1.45" fill="#e5121a" stroke="#a00c10" stroke-width="0.35"/>
<circle cx="154.11" cy="275.50" r="1.45" fill="#e5121a" stroke="#a00c10" stroke-width="0.35"/>
<circle cx="167.31" cy="271.61" r="1.45" fill="#e5121a" stroke="#a00c10" stroke-width="0.35"/>
</g>
<text transform="translate(81.9,247.0) rotate(-90)" x="-30.0" y="2" font-size="5.2" font-weight="bold" fill="#333" textLength="60" lengthAdjust="spacingAndGlyphs">GSSG (nmol/mg protein)</text>
<g stroke="#262626" stroke-width="0.9" fill="none">
<line x1="214.50" y1="216.60" x2="214.50" y2="279.50"/>
<line x1="214.50" y1="279.50" x2="311.00" y2="279.50"/>
<line x1="212.00" y1="279.50" x2="214.50" y2="279.50"/>
<line x1="212.00" y1="266.92" x2="214.50" y2="266.92"/>
<line x1="212.00" y1="254.34" x2="214.50" y2="254.34"/>
<line x1="212.00" y1="241.76" x2="214.50" y2="241.76"/>
<line x1="212.00" y1="229.18" x2="214.50" y2="229.18"/>
<line x1="212.00" y1="216.60" x2="214.50" y2="216.60"/>
<line x1="214.50" y1="279.50" x2="214.50" y2="282.00"/>
<line x1="238.62" y1="279.50" x2="238.62" y2="282.00"/>
<line x1="262.75" y1="279.50" x2="262.75" y2="282.00"/>
<line x1="286.88" y1="279.50" x2="286.88" y2="282.00"/>
<line x1="311.00" y1="279.50" x2="311.00" y2="282.00"/>
</g>
<g font-size="4.9" font-weight="bold" fill="#1a1a1a" stroke="#1a1a1a" stroke-width="0.12">
<text x="204.75" y="281.26" textLength="6.3" lengthAdjust="spacingAndGlyphs">0.0</text>
<text x="204.75" y="268.68" textLength="6.3" lengthAdjust="spacingAndGlyphs">0.5</text>
<text x="204.75" y="256.10" textLength="6.3" lengthAdjust="spacingAndGlyphs">1.0</text>
<text x="204.75" y="243.52" textLength="6.3" lengthAdjust="spacingAndGlyphs">1.5</text>
<text x="204.75" y="230.94" textLength="6.3" lengthAdjust="spacingAndGlyphs">2.0</text>
<text x="204.75" y="218.36" textLength="6.3" lengthAdjust="spacingAndGlyphs">2.5</text>
<text x="213.22" y="287.20" textLength="2.5" lengthAdjust="spacingAndGlyphs">0</text>
<text x="236.07" y="287.20" textLength="5.1" lengthAdjust="spacingAndGlyphs">20</text>
<text x="260.20" y="287.20" textLength="5.1" lengthAdjust="spacingAndGlyphs">40</text>
<text x="284.32" y="287.20" textLength="5.1" lengthAdjust="spacingAndGlyphs">60</text>
<text x="308.45" y="287.20" textLength="5.1" lengthAdjust="spacingAndGlyphs">80</text>
</g>
<line x1="251.00" y1="276.60" x2="306.00" y2="274.60" stroke="#8a8a8a" stroke-width="0.6"/>
<line x1="251.00" y1="275.40" x2="306.00" y2="274.00" stroke="#8a8a8a" stroke-width="0.6"/>
<g>
<path d="M286.00 237.90L287.50 239.40L286.00 240.90L284.50 239.40Z" fill="#cccc00" stroke="#858000" stroke-width="0.4"/>
<path d="M283.60 255.50L285.10 257.00L283.60 258.50L282.10 257.00Z" fill="#cccc00" stroke="#858000" stroke-width="0.4"/>
<path d="M284.80 263.10L286.30 264.60L284.80 266.10L283.30 264.60Z" fill="#cccc00" stroke="#858000" stroke-width="0.4"/>
<path d="M275.60 265.50L277.10 267.00L275.60 268.50L274.10 267.00Z" fill="#cccc00" stroke="#858000" stroke-width="0.4"/>
<path d="M277.00 267.10L278.50 268.60L277.00 270.10L275.50 268.60Z" fill="#cccc00" stroke="#858000" stroke-width="0.4"/>
<path d="M289.60 267.10L291.10 268.60L289.60 270.10L288.10 268.60Z" fill="#cccc00" stroke="#858000" stroke-width="0.4"/>
<path d="M287.00 269.10L288.50 270.60L287.00 272.10L285.50 270.60Z" fill="#cccc00" stroke="#858000" stroke-width="0.4"/>
<path d="M261.60 270.50L263.10 272.00L261.60 273.50L260.10 272.00Z" fill="#cccc00" stroke="#858000" stroke-width="0.4"/>
<path d="M303.00 265.90L304.50 267.40L303.00 268.90L301.50 267.40Z" fill="#cccc00" stroke="#858000" stroke-width="0.4"/>
<path d="M279.00 273.50L280.50 275.00L279.00 276.50L277.50 275.00Z" fill="#cccc00" stroke="#858000" stroke-width="0.4"/>
<path d="M282.00 273.90L283.50 275.40L282.00 276.90L280.50 275.40Z" fill="#cccc00" stroke="#858000" stroke-width="0.4"/>
<path d="M292.00 271.50L293.50 273.00L292.00 274.50L290.50 273.00Z" fill="#cccc00" stroke="#858000" stroke-width="0.4"/>
<path d="M294.00 273.50L295.50 275.00L294.00 276.50L292.50 275.00Z" fill="#cccc00" stroke="#858000" stroke-width="0.4"/>
<path d="M298.00 272.50L299.50 274.00L298.00 275.50L296.50 274.00Z" fill="#cccc00" stroke="#858000" stroke-width="0.4"/>
<path d="M301.00 274.50L302.50 276.00L301.00 277.50L299.50 276.00Z" fill="#cccc00" stroke="#858000" stroke-width="0.4"/>
<path d="M275.00 275.10L276.50 276.60L275.00 278.10L273.50 276.60Z" fill="#cccc00" stroke="#858000" stroke-width="0.4"/>
<path d="M278.00 275.90L279.50 277.40L278.00 278.90L276.50 277.40Z" fill="#cccc00" stroke="#858000" stroke-width="0.4"/>
<path d="M280.40 275.50L281.90 277.00L280.40 278.50L278.90 277.00Z" fill="#cccc00" stroke="#858000" stroke-width="0.4"/>
<path d="M284.00 275.10L285.50 276.60L284.00 278.10L282.50 276.60Z" fill="#cccc00" stroke="#858000" stroke-width="0.4"/>
<path d="M288.00 276.50L289.50 278.00L288.00 279.50L286.50 278.00Z" fill="#cccc00" stroke="#858000" stroke-width="0.4"/>
<path d="M291.00 274.50L292.50 276.00L291.00 277.50L289.50 276.00Z" fill="#cccc00" stroke="#858000" stroke-width="0.4"/>
<path d="M293.00 275.50L294.50 277.00L293.00 278.50L291.50 277.00Z" fill="#cccc00" stroke="#858000" stroke-width="0.4"/>
<path d="M296.00 276.50L297.50 278.00L296.00 279.50L294.50 278.00Z" fill="#cccc00" stroke="#858000" stroke-width="0.4"/>
<path d="M300.00 275.90L301.50 277.40L300.00 278.90L298.50 277.40Z" fill="#cccc00" stroke="#858000" stroke-width="0.4"/>
<path d="M303.00 275.50L304.50 277.00L303.00 278.50L301.50 277.00Z" fill="#cccc00" stroke="#858000" stroke-width="0.4"/>
<path d="M251.00 277.10L252.50 278.60L251.00 280.10L249.50 278.60Z" fill="#cccc00" stroke="#858000" stroke-width="0.4"/>
<path d="M258.00 277.10L259.50 278.60L258.00 280.10L256.50 278.60Z" fill="#cccc00" stroke="#858000" stroke-width="0.4"/>
<path d="M260.00 277.10L261.50 278.60L260.00 280.10L258.50 278.60Z" fill="#cccc00" stroke="#858000" stroke-width="0.4"/>
<path d="M271.00 277.10L272.50 278.60L271.00 280.10L269.50 278.60Z" fill="#cccc00" stroke="#858000" stroke-width="0.4"/>
<path d="M276.00 277.10L277.50 278.60L276.00 280.10L274.50 278.60Z" fill="#cccc00" stroke="#858000" stroke-width="0.4"/>
<path d="M280.00 277.10L281.50 278.60L280.00 280.10L278.50 278.60Z" fill="#cccc00" stroke="#858000" stroke-width="0.4"/>
<path d="M285.00 277.10L286.50 278.60L285.00 280.10L283.50 278.60Z" fill="#cccc00" stroke="#858000" stroke-width="0.4"/>
<path d="M290.00 277.10L291.50 278.60L290.00 280.10L288.50 278.60Z" fill="#cccc00" stroke="#858000" stroke-width="0.4"/>
<path d="M298.00 277.10L299.50 278.60L298.00 280.10L296.50 278.60Z" fill="#cccc00" stroke="#858000" stroke-width="0.4"/>
<path d="M304.00 277.10L305.50 278.60L304.00 280.10L302.50 278.60Z" fill="#cccc00" stroke="#858000" stroke-width="0.4"/>
</g>
<g stroke="#262626" stroke-width="0.9" fill="none">
<line x1="328.50" y1="214.60" x2="328.50" y2="279.50"/>
<line x1="328.50" y1="279.50" x2="420.40" y2="279.50"/>
<line x1="326.00" y1="279.50" x2="328.50" y2="279.50"/>
<line x1="326.00" y1="257.87" x2="328.50" y2="257.87"/>
<line x1="326.00" y1="236.23" x2="328.50" y2="236.23"/>
<line x1="326.00" y1="214.60" x2="328.50" y2="214.60"/>
<line x1="328.50" y1="279.50" x2="328.50" y2="282.00"/>
<line x1="346.88" y1="279.50" x2="346.88" y2="282.00"/>
<line x1="365.26" y1="279.50" x2="365.26" y2="282.00"/>
<line x1="383.64" y1="279.50" x2="383.64" y2="282.00"/>
<line x1="402.02" y1="279.50" x2="402.02" y2="282.00"/>
<line x1="420.40" y1="279.50" x2="420.40" y2="282.00"/>
</g>
<g font-size="4.9" font-weight="bold" fill="#1a1a1a" stroke="#1a1a1a" stroke-width="0.12">
<text x="318.75" y="281.26" textLength="6.3" lengthAdjust="spacingAndGlyphs">0.0</text>
<text x="318.75" y="259.63" textLength="6.3" lengthAdjust="spacingAndGlyphs">0.5</text>
<text x="318.75" y="238.00" textLength="6.3" lengthAdjust="spacingAndGlyphs">1.0</text>
<text x="318.75" y="216.36" textLength="6.3" lengthAdjust="spacingAndGlyphs">1.5</text>
<text x="327.23" y="287.20" textLength="2.5" lengthAdjust="spacingAndGlyphs">0</text>
<text x="344.33" y="287.20" textLength="5.1" lengthAdjust="spacingAndGlyphs">20</text>
<text x="362.71" y="287.20" textLength="5.1" lengthAdjust="spacingAndGlyphs">40</text>
<text x="381.09" y="287.20" textLength="5.1" lengthAdjust="spacingAndGlyphs">60</text>
<text x="399.47" y="287.20" textLength="5.1" lengthAdjust="spacingAndGlyphs">80</text>
<text x="416.57" y="287.20" textLength="7.6" lengthAdjust="spacingAndGlyphs">100</text>
</g>
<line x1="356.60" y1="258.00" x2="405.00" y2="264.00" stroke="#8a8a8a" stroke-width="0.9"/>
<g>
<rect x="375.50" y="231.50" width="3" height="3" fill="#c0121a" stroke="#5a0b0d" stroke-width="0.45"/>
<rect x="355.10" y="245.50" width="3" height="3" fill="#c0121a" stroke="#5a0b0d" stroke-width="0.45"/>
<rect x="369.50" y="247.90" width="3" height="3" fill="#c0121a" stroke="#5a0b0d" stroke-width="0.45"/>
<rect x="386.90" y="246.90" width="3" height="3" fill="#c0121a" stroke="#5a0b0d" stroke-width="0.45"/>
<rect x="396.90" y="246.50" width="3" height="3" fill="#c0121a" stroke="#5a0b0d" stroke-width="0.45"/>
<rect x="374.50" y="250.50" width="3" height="3" fill="#c0121a" stroke="#5a0b0d" stroke-width="0.45"/>
<rect x="374.90" y="251.50" width="3" height="3" fill="#c0121a" stroke="#5a0b0d" stroke-width="0.45"/>
<rect x="379.50" y="252.50" width="3" height="3" fill="#c0121a" stroke="#5a0b0d" stroke-width="0.45"/>
<rect x="382.50" y="250.50" width="3" height="3" fill="#c0121a" stroke="#5a0b0d" stroke-width="0.45"/>
<rect x="383.10" y="253.90" width="3" height="3" fill="#c0121a" stroke="#5a0b0d" stroke-width="0.45"/>
<rect x="395.50" y="249.50" width="3" height="3" fill="#c0121a" stroke="#5a0b0d" stroke-width="0.45"/>
<rect x="396.10" y="252.50" width="3" height="3" fill="#c0121a" stroke="#5a0b0d" stroke-width="0.45"/>
<rect x="398.10" y="251.50" width="3" height="3" fill="#c0121a" stroke="#5a0b0d" stroke-width="0.45"/>
<rect x="362.50" y="252.50" width="3" height="3" fill="#c0121a" stroke="#5a0b0d" stroke-width="0.45"/>
<rect x="363.10" y="253.90" width="3" height="3" fill="#c0121a" stroke="#5a0b0d" stroke-width="0.45"/>
<rect x="380.50" y="255.10" width="3" height="3" fill="#c0121a" stroke="#5a0b0d" stroke-width="0.45"/>
<rect x="382.10" y="255.90" width="3" height="3" fill="#c0121a" stroke="#5a0b0d" stroke-width="0.45"/>
<rect x="392.50" y="255.90" width="3" height="3" fill="#c0121a" stroke="#5a0b0d" stroke-width="0.45"/>
<rect x="389.50" y="257.50" width="3" height="3" fill="#c0121a" stroke="#5a0b0d" stroke-width="0.45"/>
<rect x="363.10" y="258.50" width="3" height="3" fill="#c0121a" stroke="#5a0b0d" stroke-width="0.45"/>
<rect x="363.50" y="259.90" width="3" height="3" fill="#c0121a" stroke="#5a0b0d" stroke-width="0.45"/>
<rect x="373.70" y="257.90" width="3" height="3" fill="#c0121a" stroke="#5a0b0d" stroke-width="0.45"/>
<rect x="372.50" y="259.50" width="3" height="3" fill="#c0121a" stroke="#5a0b0d" stroke-width="0.45"/>
<rect x="370.10" y="261.10" width="3" height="3" fill="#c0121a" stroke="#5a0b0d" stroke-width="0.45"/>
<rect x="374.10" y="262.50" width="3" height="3" fill="#c0121a" stroke="#5a0b0d" stroke-width="0.45"/>
<rect x="378.10" y="260.50" width="3" height="3" fill="#c0121a" stroke="#5a0b0d" stroke-width="0.45"/>
<rect x="380.10" y="259.10" width="3" height="3" fill="#c0121a" stroke="#5a0b0d" stroke-width="0.45"/>
<rect x="381.50" y="258.50" width="3" height="3" fill="#c0121a" stroke="#5a0b0d" stroke-width="0.45"/>
<rect x="384.50" y="259.10" width="3" height="3" fill="#c0121a" stroke="#5a0b0d" stroke-width="0.45"/>
<rect x="387.50" y="258.50" width="3" height="3" fill="#c0121a" stroke="#5a0b0d" stroke-width="0.45"/>
<rect x="390.50" y="261.90" width="3" height="3" fill="#c0121a" stroke="#5a0b0d" stroke-width="0.45"/>
<rect x="390.10" y="263.50" width="3" height="3" fill="#c0121a" stroke="#5a0b0d" stroke-width="0.45"/>
<rect x="390.10" y="265.10" width="3" height="3" fill="#c0121a" stroke="#5a0b0d" stroke-width="0.45"/>
<rect x="403.50" y="257.90" width="3" height="3" fill="#c0121a" stroke="#5a0b0d" stroke-width="0.45"/>
<rect x="374.50" y="263.10" width="3" height="3" fill="#c0121a" stroke="#5a0b0d" stroke-width="0.45"/>
<rect x="378.10" y="261.90" width="3" height="3" fill="#c0121a" stroke="#5a0b0d" stroke-width="0.45"/>
<rect x="376.50" y="271.90" width="3" height="3" fill="#c0121a" stroke="#5a0b0d" stroke-width="0.45"/>
<rect x="374.10" y="275.10" width="3" height="3" fill="#c0121a" stroke="#5a0b0d" stroke-width="0.45"/>
<rect x="379.50" y="275.10" width="3" height="3" fill="#c0121a" stroke="#5a0b0d" stroke-width="0.45"/>
<rect x="380.50" y="276.50" width="3" height="3" fill="#c0121a" stroke="#5a0b0d" stroke-width="0.45"/>
<rect x="382.50" y="271.10" width="3" height="3" fill="#c0121a" stroke="#5a0b0d" stroke-width="0.45"/>
<rect x="384.90" y="274.50" width="3" height="3" fill="#c0121a" stroke="#5a0b0d" stroke-width="0.45"/>
<rect x="386.10" y="276.50" width="3" height="3" fill="#c0121a" stroke="#5a0b0d" stroke-width="0.45"/>
<rect x="386.90" y="273.90" width="3" height="3" fill="#c0121a" stroke="#5a0b0d" stroke-width="0.45"/>
<rect x="388.90" y="273.90" width="3" height="3" fill="#c0121a" stroke="#5a0b0d" stroke-width="0.45"/>
<rect x="390.10" y="273.10" width="3" height="3" fill="#c0121a" stroke="#5a0b0d" stroke-width="0.45"/>
<rect x="391.50" y="277.50" width="3" height="3" fill="#c0121a" stroke="#5a0b0d" stroke-width="0.45"/>
</g>
<g stroke="#262626" stroke-width="0.9" fill="none">
<line x1="445.50" y1="216.81" x2="445.50" y2="279.50"/>
<line x1="445.50" y1="279.50" x2="538.85" y2="279.50"/>
<line x1="443.00" y1="279.50" x2="445.50" y2="279.50"/>
<line x1="443.00" y1="263.83" x2="445.50" y2="263.83"/>
<line x1="443.00" y1="248.15" x2="445.50" y2="248.15"/>
<line x1="443.00" y1="232.48" x2="445.50" y2="232.48"/>
<line x1="443.00" y1="216.81" x2="445.50" y2="216.81"/>
<line x1="445.50" y1="279.50" x2="445.50" y2="282.00"/>
<line x1="468.84" y1="279.50" x2="468.84" y2="282.00"/>
<line x1="492.17" y1="279.50" x2="492.17" y2="282.00"/>
<line x1="515.51" y1="279.50" x2="515.51" y2="282.00"/>
<line x1="538.85" y1="279.50" x2="538.85" y2="282.00"/>
</g>
<g font-size="4.9" font-weight="bold" fill="#1a1a1a" stroke="#1a1a1a" stroke-width="0.12">
<text x="435.75" y="281.26" textLength="6.3" lengthAdjust="spacingAndGlyphs">0.0</text>
<text x="435.75" y="265.59" textLength="6.3" lengthAdjust="spacingAndGlyphs">0.1</text>
<text x="435.75" y="249.92" textLength="6.3" lengthAdjust="spacingAndGlyphs">0.2</text>
<text x="435.75" y="234.25" textLength="6.3" lengthAdjust="spacingAndGlyphs">0.3</text>
<text x="435.75" y="218.57" textLength="6.3" lengthAdjust="spacingAndGlyphs">0.4</text>
<text x="444.23" y="287.20" textLength="2.5" lengthAdjust="spacingAndGlyphs">0</text>
<text x="466.29" y="287.20" textLength="5.1" lengthAdjust="spacingAndGlyphs">20</text>
<text x="489.62" y="287.20" textLength="5.1" lengthAdjust="spacingAndGlyphs">40</text>
<text x="512.96" y="287.20" textLength="5.1" lengthAdjust="spacingAndGlyphs">60</text>
<text x="536.30" y="287.20" textLength="5.1" lengthAdjust="spacingAndGlyphs">80</text>
</g>
<line x1="480.76" y1="272.20" x2="533.66" y2="272.20" stroke="#333" stroke-width="0.7"/>
<line x1="480.76" y1="273.45" x2="533.66" y2="273.45" stroke="#333" stroke-width="0.7"/>
<g>
<path d="M510.42 232.74L511.87 235.34L508.97 235.34Z" fill="#d4161c" stroke="#5e0c0c" stroke-width="0.4"/>
<path d="M513.33 247.88L514.78 250.48L511.88 250.48Z" fill="#d4161c" stroke="#5e0c0c" stroke-width="0.4"/>
<path d="M490.51 253.69L491.96 256.29L489.06 256.29Z" fill="#d4161c" stroke="#5e0c0c" stroke-width="0.4"/>
<path d="M527.02 257.22L528.47 259.82L525.57 259.82Z" fill="#d4161c" stroke="#5e0c0c" stroke-width="0.4"/>
<path d="M514.57 262.40L516.02 265.00L513.12 265.00Z" fill="#d4161c" stroke="#5e0c0c" stroke-width="0.4"/>
<path d="M519.14 263.86L520.59 266.46L517.69 266.46Z" fill="#d4161c" stroke="#5e0c0c" stroke-width="0.4"/>
<path d="M523.29 265.10L524.74 267.70L521.84 267.70Z" fill="#d4161c" stroke="#5e0c0c" stroke-width="0.4"/>
<path d="M520.80 266.55L522.25 269.15L519.35 269.15Z" fill="#d4161c" stroke="#5e0c0c" stroke-width="0.4"/>
<path d="M506.69 267.59L508.14 270.19L505.24 270.19Z" fill="#d4161c" stroke="#5e0c0c" stroke-width="0.4"/>
<path d="M505.65 269.67L507.10 272.27L504.20 272.27Z" fill="#d4161c" stroke="#5e0c0c" stroke-width="0.4"/>
<path d="M503.58 271.33L505.03 273.93L502.13 273.93Z" fill="#d4161c" stroke="#5e0c0c" stroke-width="0.4"/>
<path d="M507.73 271.74L509.18 274.34L506.28 274.34Z" fill="#d4161c" stroke="#5e0c0c" stroke-width="0.4"/>
<path d="M490.51 271.33L491.96 273.93L489.06 273.93Z" fill="#d4161c" stroke="#5e0c0c" stroke-width="0.4"/>
<path d="M491.13 273.82L492.58 276.42L489.68 276.42Z" fill="#d4161c" stroke="#5e0c0c" stroke-width="0.4"/>
<path d="M490.09 276.30L491.54 278.90L488.64 278.90Z" fill="#d4161c" stroke="#5e0c0c" stroke-width="0.4"/>
<path d="M486.98 275.48L488.43 278.08L485.53 278.08Z" fill="#d4161c" stroke="#5e0c0c" stroke-width="0.4"/>
<path d="M480.76 275.89L482.21 278.49L479.31 278.49Z" fill="#d4161c" stroke="#5e0c0c" stroke-width="0.4"/>
<path d="M498.39 273.40L499.84 276.00L496.94 276.00Z" fill="#d4161c" stroke="#5e0c0c" stroke-width="0.4"/>
<path d="M498.80 275.48L500.25 278.08L497.35 278.08Z" fill="#d4161c" stroke="#5e0c0c" stroke-width="0.4"/>
<path d="M502.54 274.23L503.99 276.83L501.09 276.83Z" fill="#d4161c" stroke="#5e0c0c" stroke-width="0.4"/>
<path d="M504.61 273.40L506.06 276.00L503.16 276.00Z" fill="#d4161c" stroke="#5e0c0c" stroke-width="0.4"/>
<path d="M505.65 275.89L507.10 278.49L504.20 278.49Z" fill="#d4161c" stroke="#5e0c0c" stroke-width="0.4"/>
<path d="M508.76 275.48L510.21 278.08L507.31 278.08Z" fill="#d4161c" stroke="#5e0c0c" stroke-width="0.4"/>
<path d="M511.88 270.70L513.33 273.30L510.43 273.30Z" fill="#d4161c" stroke="#5e0c0c" stroke-width="0.4"/>
<path d="M514.57 271.74L516.02 274.34L513.12 274.34Z" fill="#d4161c" stroke="#5e0c0c" stroke-width="0.4"/>
<path d="M516.02 274.23L517.47 276.83L514.57 276.83Z" fill="#d4161c" stroke="#5e0c0c" stroke-width="0.4"/>
<path d="M517.48 270.70L518.93 273.30L516.03 273.30Z" fill="#d4161c" stroke="#5e0c0c" stroke-width="0.4"/>
<path d="M519.14 272.78L520.59 275.38L517.69 275.38Z" fill="#d4161c" stroke="#5e0c0c" stroke-width="0.4"/>
<path d="M522.25 271.74L523.70 274.34L520.80 274.34Z" fill="#d4161c" stroke="#5e0c0c" stroke-width="0.4"/>
<path d="M524.32 269.67L525.77 272.27L522.87 272.27Z" fill="#d4161c" stroke="#5e0c0c" stroke-width="0.4"/>
<path d="M525.36 273.82L526.81 276.42L523.91 276.42Z" fill="#d4161c" stroke="#5e0c0c" stroke-width="0.4"/>
<path d="M527.02 271.33L528.47 273.93L525.57 273.93Z" fill="#d4161c" stroke="#5e0c0c" stroke-width="0.4"/>
<path d="M528.47 275.89L529.92 278.49L527.02 278.49Z" fill="#d4161c" stroke="#5e0c0c" stroke-width="0.4"/>
<path d="M508.76 277.96L510.21 280.56L507.31 280.56Z" fill="#d4161c" stroke="#5e0c0c" stroke-width="0.4"/>
<path d="M512.91 276.93L514.36 279.53L511.46 279.53Z" fill="#d4161c" stroke="#5e0c0c" stroke-width="0.4"/>
<path d="M516.02 277.96L517.47 280.56L514.57 280.56Z" fill="#d4161c" stroke="#5e0c0c" stroke-width="0.4"/>
<path d="M520.17 276.93L521.62 279.53L518.72 279.53Z" fill="#d4161c" stroke="#5e0c0c" stroke-width="0.4"/>
<path d="M523.29 276.30L524.74 278.90L521.84 278.90Z" fill="#d4161c" stroke="#5e0c0c" stroke-width="0.4"/>
<path d="M526.40 277.96L527.85 280.56L524.95 280.56Z" fill="#d4161c" stroke="#5e0c0c" stroke-width="0.4"/>
<path d="M529.51 276.93L530.96 279.53L528.06 279.53Z" fill="#d4161c" stroke="#5e0c0c" stroke-width="0.4"/>
<path d="M531.59 273.82L533.04 276.42L530.14 276.42Z" fill="#d4161c" stroke="#5e0c0c" stroke-width="0.4"/>
<path d="M533.66 273.40L535.11 276.00L532.21 276.00Z" fill="#d4161c" stroke="#5e0c0c" stroke-width="0.4"/>
</g>
<g stroke="#262626" stroke-width="0.9" fill="none">
<line x1="100.50" y1="304.75" x2="100.50" y2="361.50"/>
<line x1="100.50" y1="361.50" x2="184.44" y2="361.50"/>
<line x1="98.00" y1="361.50" x2="100.50" y2="361.50"/>
<line x1="98.00" y1="350.15" x2="100.50" y2="350.15"/>
<line x1="98.00" y1="338.80" x2="100.50" y2="338.80"/>
<line x1="98.00" y1="327.45" x2="100.50" y2="327.45"/>
<line x1="98.00" y1="316.10" x2="100.50" y2="316.10"/>
<line x1="98.00" y1="304.75" x2="100.50" y2="304.75"/>
<line x1="100.50" y1="361.50" x2="100.50" y2="364.00"/>
<line x1="117.29" y1="361.50" x2="117.29" y2="364.00"/>
<line x1="134.08" y1="361.50" x2="134.08" y2="364.00"/>
<line x1="150.87" y1="361.50" x2="150.87" y2="364.00"/>
<line x1="167.66" y1="361.50" x2="167.66" y2="364.00"/>
<line x1="184.44" y1="361.50" x2="184.44" y2="364.00"/>
</g>
<g font-size="4.4" font-weight="bold" fill="#1a1a1a" stroke="#1a1a1a" stroke-width="0.12">
<text x="91.70" y="363.08" textLength="5.4" lengthAdjust="spacingAndGlyphs">0.0</text>
<text x="91.70" y="351.73" textLength="5.4" lengthAdjust="spacingAndGlyphs">0.5</text>
<text x="91.70" y="340.38" textLength="5.4" lengthAdjust="spacingAndGlyphs">1.0</text>
<text x="91.70" y="329.03" textLength="5.4" lengthAdjust="spacingAndGlyphs">1.5</text>
<text x="91.70" y="317.68" textLength="5.4" lengthAdjust="spacingAndGlyphs">2.0</text>
<text x="91.70" y="306.33" textLength="5.4" lengthAdjust="spacingAndGlyphs">2.5</text>
<text x="99.42" y="368.80" textLength="2.1" lengthAdjust="spacingAndGlyphs">0</text>
<text x="115.14" y="368.80" textLength="4.3" lengthAdjust="spacingAndGlyphs">20</text>
<text x="131.93" y="368.80" textLength="4.3" lengthAdjust="spacingAndGlyphs">40</text>
<text x="148.72" y="368.80" textLength="4.3" lengthAdjust="spacingAndGlyphs">60</text>
<text x="165.51" y="368.80" textLength="4.3" lengthAdjust="spacingAndGlyphs">80</text>
<text x="181.22" y="368.80" textLength="6.4" lengthAdjust="spacingAndGlyphs">100</text>
</g>
<line x1="125.75" y1="355.37" x2="179.64" y2="352.09" stroke="#f4928a" stroke-width="0.9"/>
<g>
<circle cx="146.26" cy="312.82" r="1.45" fill="#e5121a" stroke="#a00c10" stroke-width="0.35"/>
<circle cx="157.82" cy="328.09" r="1.45" fill="#e5121a" stroke="#a00c10" stroke-width="0.35"/>
<circle cx="148.01" cy="333.55" r="1.45" fill="#e5121a" stroke="#a00c10" stroke-width="0.35"/>
<circle cx="154.11" cy="333.98" r="1.45" fill="#e5121a" stroke="#a00c10" stroke-width="0.35"/>
<circle cx="161.75" cy="333.98" r="1.45" fill="#e5121a" stroke="#a00c10" stroke-width="0.35"/>
<circle cx="128.80" cy="338.57" r="1.45" fill="#e5121a" stroke="#a00c10" stroke-width="0.35"/>
<circle cx="156.73" cy="340.09" r="1.45" fill="#e5121a" stroke="#a00c10" stroke-width="0.35"/>
<circle cx="154.99" cy="341.84" r="1.45" fill="#e5121a" stroke="#a00c10" stroke-width="0.35"/>
<circle cx="147.57" cy="343.37" r="1.45" fill="#e5121a" stroke="#a00c10" stroke-width="0.35"/>
<circle cx="149.10" cy="344.02" r="1.45" fill="#e5121a" stroke="#a00c10" stroke-width="0.35"/>
<circle cx="158.48" cy="344.89" r="1.45" fill="#e5121a" stroke="#a00c10" stroke-width="0.35"/>
<circle cx="158.92" cy="346.20" r="1.45" fill="#e5121a" stroke="#a00c10" stroke-width="0.35"/>
<circle cx="134.48" cy="349.26" r="1.45" fill="#e5121a" stroke="#a00c10" stroke-width="0.35"/>
<circle cx="131.64" cy="352.75" r="1.45" fill="#e5121a" stroke="#a00c10" stroke-width="0.35"/>
<circle cx="125.75" cy="358.64" r="1.45" fill="#e5121a" stroke="#a00c10" stroke-width="0.35"/>
<circle cx="132.30" cy="357.11" r="1.45" fill="#e5121a" stroke="#a00c10" stroke-width="0.35"/>
<circle cx="133.82" cy="358.64" r="1.45" fill="#e5121a" stroke="#a00c10" stroke-width="0.35"/>
<circle cx="136.66" cy="355.80" r="1.45" fill="#e5121a" stroke="#a00c10" stroke-width="0.35"/>
<circle cx="139.28" cy="357.55" r="1.45" fill="#e5121a" stroke="#a00c10" stroke-width="0.35"/>
<circle cx="141.46" cy="356.46" r="1.45" fill="#e5121a" stroke="#a00c10" stroke-width="0.35"/>
<circle cx="144.08" cy="357.55" r="1.45" fill="#e5121a" stroke="#a00c10" stroke-width="0.35"/>
<circle cx="146.91" cy="355.80" r="1.45" fill="#e5121a" stroke="#a00c10" stroke-width="0.35"/>
<circle cx="149.75" cy="357.55" r="1.45" fill="#e5121a" stroke="#a00c10" stroke-width="0.35"/>
<circle cx="152.37" cy="356.46" r="1.45" fill="#e5121a" stroke="#a00c10" stroke-width="0.35"/>
<circle cx="154.99" cy="355.37" r="1.45" fill="#e5121a" stroke="#a00c10" stroke-width="0.35"/>
<circle cx="157.82" cy="357.11" r="1.45" fill="#e5121a" stroke="#a00c10" stroke-width="0.35"/>
<circle cx="160.66" cy="357.55" r="1.45" fill="#e5121a" stroke="#a00c10" stroke-width="0.35"/>
<circle cx="163.28" cy="356.46" r="1.45" fill="#e5121a" stroke="#a00c10" stroke-width="0.35"/>
<circle cx="138.19" cy="358.64" r="1.45" fill="#e5121a" stroke="#a00c10" stroke-width="0.35"/>
<circle cx="140.37" cy="359.30" r="1.45" fill="#e5121a" stroke="#a00c10" stroke-width="0.35"/>
<circle cx="143.64" cy="358.64" r="1.45" fill="#e5121a" stroke="#a00c10" stroke-width="0.35"/>
<circle cx="146.26" cy="359.30" r="1.45" fill="#e5121a" stroke="#a00c10" stroke-width="0.35"/>
<circle cx="150.19" cy="359.30" r="1.45" fill="#e5121a" stroke="#a00c10" stroke-width="0.35"/>
<circle cx="153.46" cy="358.64" r="1.45" fill="#e5121a" stroke="#a00c10" stroke-width="0.35"/>
<circle cx="157.17" cy="359.30" r="1.45" fill="#e5121a" stroke="#a00c10" stroke-width="0.35"/>
<circle cx="160.01" cy="358.64" r="1.45" fill="#e5121a" stroke="#a00c10" stroke-width="0.35"/>
<circle cx="164.37" cy="359.30" r="1.45" fill="#e5121a" stroke="#a00c10" stroke-width="0.35"/>
<circle cx="169.83" cy="357.55" r="1.45" fill="#e5121a" stroke="#a00c10" stroke-width="0.35"/>
<circle cx="179.64" cy="358.64" r="1.45" fill="#e5121a" stroke="#a00c10" stroke-width="0.35"/>
</g>
<text transform="translate(86.1,333.0) rotate(-90)" x="-24.0" y="2" font-size="5.2" font-weight="bold" fill="#333" textLength="48" lengthAdjust="spacingAndGlyphs">nmol GSH/mg protein</text>
<g stroke="#262626" stroke-width="0.9" fill="none">
<line x1="215.50" y1="306.00" x2="215.50" y2="361.50"/>
<line x1="215.50" y1="361.50" x2="309.60" y2="361.50"/>
<line x1="213.00" y1="361.50" x2="215.50" y2="361.50"/>
<line x1="213.00" y1="343.00" x2="215.50" y2="343.00"/>
<line x1="213.00" y1="324.50" x2="215.50" y2="324.50"/>
<line x1="213.00" y1="306.00" x2="215.50" y2="306.00"/>
<line x1="215.50" y1="361.50" x2="215.50" y2="364.00"/>
<line x1="239.03" y1="361.50" x2="239.03" y2="364.00"/>
<line x1="262.55" y1="361.50" x2="262.55" y2="364.00"/>
<line x1="286.08" y1="361.50" x2="286.08" y2="364.00"/>
<line x1="309.60" y1="361.50" x2="309.60" y2="364.00"/>
</g>
<g font-size="4.4" font-weight="bold" fill="#1a1a1a" stroke="#1a1a1a" stroke-width="0.12">
<text x="209.95" y="363.08" textLength="2.1" lengthAdjust="spacingAndGlyphs">0</text>
<text x="209.95" y="344.58" textLength="2.1" lengthAdjust="spacingAndGlyphs">5</text>
<text x="207.80" y="326.08" textLength="4.3" lengthAdjust="spacingAndGlyphs">10</text>
<text x="207.80" y="307.58" textLength="4.3" lengthAdjust="spacingAndGlyphs">15</text>
<text x="214.43" y="368.80" textLength="2.1" lengthAdjust="spacingAndGlyphs">0</text>
<text x="236.88" y="368.80" textLength="4.3" lengthAdjust="spacingAndGlyphs">20</text>
<text x="260.40" y="368.80" textLength="4.3" lengthAdjust="spacingAndGlyphs">40</text>
<text x="283.93" y="368.80" textLength="4.3" lengthAdjust="spacingAndGlyphs">60</text>
<text x="307.45" y="368.80" textLength="4.3" lengthAdjust="spacingAndGlyphs">80</text>
</g>
<line x1="251.60" y1="361.00" x2="306.00" y2="356.00" stroke="#aaa" stroke-width="0.9"/>
<g>
<path d="M302.40 324.50L303.90 326.00L302.40 327.50L300.90 326.00Z" fill="#cccc00" stroke="#858000" stroke-width="0.4"/>
<path d="M287.00 336.50L288.50 338.00L287.00 339.50L285.50 338.00Z" fill="#cccc00" stroke="#858000" stroke-width="0.4"/>
<path d="M291.60 347.90L293.10 349.40L291.60 350.90L290.10 349.40Z" fill="#cccc00" stroke="#858000" stroke-width="0.4"/>
<path d="M294.00 351.50L295.50 353.00L294.00 354.50L292.50 353.00Z" fill="#cccc00" stroke="#858000" stroke-width="0.4"/>
<path d="M286.00 351.90L287.50 353.40L286.00 354.90L284.50 353.40Z" fill="#cccc00" stroke="#858000" stroke-width="0.4"/>
<path d="M302.40 350.50L303.90 352.00L302.40 353.50L300.90 352.00Z" fill="#cccc00" stroke="#858000" stroke-width="0.4"/>
<path d="M277.60 354.50L279.10 356.00L277.60 357.50L276.10 356.00Z" fill="#cccc00" stroke="#858000" stroke-width="0.4"/>
<path d="M282.00 353.90L283.50 355.40L282.00 356.90L280.50 355.40Z" fill="#cccc00" stroke="#858000" stroke-width="0.4"/>
<path d="M293.00 355.10L294.50 356.60L293.00 358.10L291.50 356.60Z" fill="#cccc00" stroke="#858000" stroke-width="0.4"/>
<path d="M251.60 357.50L253.10 359.00L251.60 360.50L250.10 359.00Z" fill="#cccc00" stroke="#858000" stroke-width="0.4"/>
<path d="M258.00 357.10L259.50 358.60L258.00 360.10L256.50 358.60Z" fill="#cccc00" stroke="#858000" stroke-width="0.4"/>
<path d="M261.60 358.50L263.10 360.00L261.60 361.50L260.10 360.00Z" fill="#cccc00" stroke="#858000" stroke-width="0.4"/>
<path d="M270.00 359.10L271.50 360.60L270.00 362.10L268.50 360.60Z" fill="#cccc00" stroke="#858000" stroke-width="0.4"/>
<path d="M275.00 358.50L276.50 360.00L275.00 361.50L273.50 360.00Z" fill="#cccc00" stroke="#858000" stroke-width="0.4"/>
<path d="M279.00 359.50L280.50 361.00L279.00 362.50L277.50 361.00Z" fill="#cccc00" stroke="#858000" stroke-width="0.4"/>
<path d="M281.00 358.50L282.50 360.00L281.00 361.50L279.50 360.00Z" fill="#cccc00" stroke="#858000" stroke-width="0.4"/>
<path d="M283.60 359.10L285.10 360.60L283.60 362.10L282.10 360.60Z" fill="#cccc00" stroke="#858000" stroke-width="0.4"/>
<path d="M288.00 358.50L289.50 360.00L288.00 361.50L286.50 360.00Z" fill="#cccc00" stroke="#858000" stroke-width="0.4"/>
<path d="M291.00 359.50L292.50 361.00L291.00 362.50L289.50 361.00Z" fill="#cccc00" stroke="#858000" stroke-width="0.4"/>
<path d="M295.60 358.50L297.10 360.00L295.60 361.50L294.10 360.00Z" fill="#cccc00" stroke="#858000" stroke-width="0.4"/>
<path d="M298.00 359.50L299.50 361.00L298.00 362.50L296.50 361.00Z" fill="#cccc00" stroke="#858000" stroke-width="0.4"/>
<path d="M301.00 358.50L302.50 360.00L301.00 361.50L299.50 360.00Z" fill="#cccc00" stroke="#858000" stroke-width="0.4"/>
<path d="M304.00 359.10L305.50 360.60L304.00 362.10L302.50 360.60Z" fill="#cccc00" stroke="#858000" stroke-width="0.4"/>
<path d="M276.00 359.90L277.50 361.40L276.00 362.90L274.50 361.40Z" fill="#cccc00" stroke="#858000" stroke-width="0.4"/>
<path d="M280.00 360.10L281.50 361.60L280.00 363.10L278.50 361.60Z" fill="#cccc00" stroke="#858000" stroke-width="0.4"/>
<path d="M284.00 360.10L285.50 361.60L284.00 363.10L282.50 361.60Z" fill="#cccc00" stroke="#858000" stroke-width="0.4"/>
<path d="M289.60 360.10L291.10 361.60L289.60 363.10L288.10 361.60Z" fill="#cccc00" stroke="#858000" stroke-width="0.4"/>
<path d="M294.00 360.10L295.50 361.60L294.00 363.10L292.50 361.60Z" fill="#cccc00" stroke="#858000" stroke-width="0.4"/>
<path d="M300.00 360.10L301.50 361.60L300.00 363.10L298.50 361.60Z" fill="#cccc00" stroke="#858000" stroke-width="0.4"/>
</g>
<g stroke="#262626" stroke-width="0.9" fill="none">
<line x1="330.50" y1="306.60" x2="330.50" y2="362.50"/>
<line x1="330.50" y1="362.50" x2="423.00" y2="362.50"/>
<line x1="328.00" y1="362.50" x2="330.50" y2="362.50"/>
<line x1="328.00" y1="343.87" x2="330.50" y2="343.87"/>
<line x1="328.00" y1="325.23" x2="330.50" y2="325.23"/>
<line x1="328.00" y1="306.60" x2="330.50" y2="306.60"/>
<line x1="330.50" y1="362.50" x2="330.50" y2="365.00"/>
<line x1="349.00" y1="362.50" x2="349.00" y2="365.00"/>
<line x1="367.50" y1="362.50" x2="367.50" y2="365.00"/>
<line x1="386.00" y1="362.50" x2="386.00" y2="365.00"/>
<line x1="404.50" y1="362.50" x2="404.50" y2="365.00"/>
<line x1="423.00" y1="362.50" x2="423.00" y2="365.00"/>
</g>
<g font-size="4.4" font-weight="bold" fill="#1a1a1a" stroke="#1a1a1a" stroke-width="0.12">
<text x="321.70" y="364.08" textLength="5.4" lengthAdjust="spacingAndGlyphs">0.0</text>
<text x="321.70" y="345.45" textLength="5.4" lengthAdjust="spacingAndGlyphs">0.5</text>
<text x="321.70" y="326.82" textLength="5.4" lengthAdjust="spacingAndGlyphs">1.0</text>
<text x="321.70" y="308.18" textLength="5.4" lengthAdjust="spacingAndGlyphs">1.5</text>
<text x="329.43" y="369.80" textLength="2.1" lengthAdjust="spacingAndGlyphs">0</text>
<text x="346.85" y="369.80" textLength="4.3" lengthAdjust="spacingAndGlyphs">20</text>
<text x="365.35" y="369.80" textLength="4.3" lengthAdjust="spacingAndGlyphs">40</text>
<text x="383.85" y="369.80" textLength="4.3" lengthAdjust="spacingAndGlyphs">60</text>
<text x="402.35" y="369.80" textLength="4.3" lengthAdjust="spacingAndGlyphs">80</text>
<text x="419.77" y="369.80" textLength="6.4" lengthAdjust="spacingAndGlyphs">100</text>
</g>
<line x1="358.00" y1="356.00" x2="406.00" y2="352.00" stroke="#333" stroke-width="0.9"/>
<g>
<rect x="383.70" y="309.90" width="3" height="3" fill="#c0121a" stroke="#5a0b0d" stroke-width="0.45"/>
<rect x="390.90" y="311.10" width="3" height="3" fill="#c0121a" stroke="#5a0b0d" stroke-width="0.45"/>
<rect x="375.10" y="322.10" width="3" height="3" fill="#c0121a" stroke="#5a0b0d" stroke-width="0.45"/>
<rect x="387.10" y="321.50" width="3" height="3" fill="#c0121a" stroke="#5a0b0d" stroke-width="0.45"/>
<rect x="381.90" y="330.50" width="3" height="3" fill="#c0121a" stroke="#5a0b0d" stroke-width="0.45"/>
<rect x="386.50" y="333.50" width="3" height="3" fill="#c0121a" stroke="#5a0b0d" stroke-width="0.45"/>
<rect x="380.90" y="336.90" width="3" height="3" fill="#c0121a" stroke="#5a0b0d" stroke-width="0.45"/>
<rect x="389.10" y="337.90" width="3" height="3" fill="#c0121a" stroke="#5a0b0d" stroke-width="0.45"/>
<rect x="377.90" y="343.10" width="3" height="3" fill="#c0121a" stroke="#5a0b0d" stroke-width="0.45"/>
<rect x="393.10" y="346.90" width="3" height="3" fill="#c0121a" stroke="#5a0b0d" stroke-width="0.45"/>
<rect x="382.90" y="353.10" width="3" height="3" fill="#c0121a" stroke="#5a0b0d" stroke-width="0.45"/>
<rect x="356.50" y="358.10" width="3" height="3" fill="#c0121a" stroke="#5a0b0d" stroke-width="0.45"/>
<rect x="364.50" y="355.10" width="3" height="3" fill="#c0121a" stroke="#5a0b0d" stroke-width="0.45"/>
<rect x="364.90" y="357.90" width="3" height="3" fill="#c0121a" stroke="#5a0b0d" stroke-width="0.45"/>
<rect x="364.90" y="359.50" width="3" height="3" fill="#c0121a" stroke="#5a0b0d" stroke-width="0.45"/>
<rect x="371.50" y="359.50" width="3" height="3" fill="#c0121a" stroke="#5a0b0d" stroke-width="0.45"/>
<rect x="374.50" y="357.90" width="3" height="3" fill="#c0121a" stroke="#5a0b0d" stroke-width="0.45"/>
<rect x="376.50" y="359.10" width="3" height="3" fill="#c0121a" stroke="#5a0b0d" stroke-width="0.45"/>
<rect x="378.50" y="357.50" width="3" height="3" fill="#c0121a" stroke="#5a0b0d" stroke-width="0.45"/>
<rect x="380.50" y="359.50" width="3" height="3" fill="#c0121a" stroke="#5a0b0d" stroke-width="0.45"/>
<rect x="383.50" y="357.90" width="3" height="3" fill="#c0121a" stroke="#5a0b0d" stroke-width="0.45"/>
<rect x="385.50" y="359.10" width="3" height="3" fill="#c0121a" stroke="#5a0b0d" stroke-width="0.45"/>
<rect x="388.10" y="359.90" width="3" height="3" fill="#c0121a" stroke="#5a0b0d" stroke-width="0.45"/>
<rect x="391.50" y="357.10" width="3" height="3" fill="#c0121a" stroke="#5a0b0d" stroke-width="0.45"/>
<rect x="393.50" y="358.50" width="3" height="3" fill="#c0121a" stroke="#5a0b0d" stroke-width="0.45"/>
<rect x="396.50" y="359.50" width="3" height="3" fill="#c0121a" stroke="#5a0b0d" stroke-width="0.45"/>
<rect x="399.50" y="359.90" width="3" height="3" fill="#c0121a" stroke="#5a0b0d" stroke-width="0.45"/>
<rect x="404.90" y="359.50" width="3" height="3" fill="#c0121a" stroke="#5a0b0d" stroke-width="0.45"/>
<rect x="376.50" y="355.50" width="3" height="3" fill="#c0121a" stroke="#5a0b0d" stroke-width="0.45"/>
<rect x="382.50" y="356.50" width="3" height="3" fill="#c0121a" stroke="#5a0b0d" stroke-width="0.45"/>
</g>
<g stroke="#262626" stroke-width="0.9" fill="none">
<line x1="445.50" y1="305.07" x2="445.50" y2="361.50"/>
<line x1="445.50" y1="361.50" x2="534.28" y2="361.50"/>
<line x1="443.00" y1="361.50" x2="445.50" y2="361.50"/>
<line x1="443.00" y1="350.21" x2="445.50" y2="350.21"/>
<line x1="443.00" y1="338.93" x2="445.50" y2="338.93"/>
<line x1="443.00" y1="327.64" x2="445.50" y2="327.64"/>
<line x1="443.00" y1="316.36" x2="445.50" y2="316.36"/>
<line x1="443.00" y1="305.07" x2="445.50" y2="305.07"/>
<line x1="445.50" y1="361.50" x2="445.50" y2="364.00"/>
<line x1="463.26" y1="361.50" x2="463.26" y2="364.00"/>
<line x1="481.01" y1="361.50" x2="481.01" y2="364.00"/>
<line x1="498.77" y1="361.50" x2="498.77" y2="364.00"/>
<line x1="516.53" y1="361.50" x2="516.53" y2="364.00"/>
<line x1="534.28" y1="361.50" x2="534.28" y2="364.00"/>
</g>
<g font-size="4.4" font-weight="bold" fill="#1a1a1a" stroke="#1a1a1a" stroke-width="0.12">
<text x="436.70" y="363.08" textLength="5.4" lengthAdjust="spacingAndGlyphs">0.0</text>
<text x="436.70" y="351.80" textLength="5.4" lengthAdjust="spacingAndGlyphs">0.5</text>
<text x="436.70" y="340.51" textLength="5.4" lengthAdjust="spacingAndGlyphs">1.0</text>
<text x="436.70" y="329.23" textLength="5.4" lengthAdjust="spacingAndGlyphs">1.5</text>
<text x="436.70" y="317.94" textLength="5.4" lengthAdjust="spacingAndGlyphs">2.0</text>
<text x="436.70" y="306.66" textLength="5.4" lengthAdjust="spacingAndGlyphs">2.5</text>
<text x="444.43" y="368.80" textLength="2.1" lengthAdjust="spacingAndGlyphs">0</text>
<text x="461.11" y="368.80" textLength="4.3" lengthAdjust="spacingAndGlyphs">20</text>
<text x="478.86" y="368.80" textLength="4.3" lengthAdjust="spacingAndGlyphs">40</text>
<text x="496.62" y="368.80" textLength="4.3" lengthAdjust="spacingAndGlyphs">60</text>
<text x="514.38" y="368.80" textLength="4.3" lengthAdjust="spacingAndGlyphs">80</text>
<text x="531.06" y="368.80" textLength="6.4" lengthAdjust="spacingAndGlyphs">100</text>
</g>
<line x1="472.46" y1="352.79" x2="517.48" y2="355.90" stroke="#444" stroke-width="0.9"/>
<g>
<path d="M480.13 315.40L481.58 318.00L478.68 318.00Z" fill="#d4161c" stroke="#5e0c0c" stroke-width="0.4"/>
<path d="M497.35 320.59L498.80 323.19L495.90 323.19Z" fill="#d4161c" stroke="#5e0c0c" stroke-width="0.4"/>
<path d="M507.73 333.04L509.18 335.64L506.28 335.64Z" fill="#d4161c" stroke="#5e0c0c" stroke-width="0.4"/>
<path d="M502.54 345.48L503.99 348.08L501.09 348.08Z" fill="#d4161c" stroke="#5e0c0c" stroke-width="0.4"/>
<path d="M504.61 347.14L506.06 349.74L503.16 349.74Z" fill="#d4161c" stroke="#5e0c0c" stroke-width="0.4"/>
<path d="M480.13 352.95L481.58 355.55L478.68 355.55Z" fill="#d4161c" stroke="#5e0c0c" stroke-width="0.4"/>
<path d="M472.46 358.55L473.91 361.15L471.01 361.15Z" fill="#d4161c" stroke="#5e0c0c" stroke-width="0.4"/>
<path d="M477.23 355.86L478.68 358.46L475.78 358.46Z" fill="#d4161c" stroke="#5e0c0c" stroke-width="0.4"/>
<path d="M479.30 357.52L480.75 360.12L477.85 360.12Z" fill="#d4161c" stroke="#5e0c0c" stroke-width="0.4"/>
<path d="M480.76 358.55L482.21 361.15L479.31 361.15Z" fill="#d4161c" stroke="#5e0c0c" stroke-width="0.4"/>
<path d="M485.53 358.55L486.98 361.15L484.08 361.15Z" fill="#d4161c" stroke="#5e0c0c" stroke-width="0.4"/>
<path d="M486.98 351.71L488.43 354.31L485.53 354.31Z" fill="#d4161c" stroke="#5e0c0c" stroke-width="0.4"/>
<path d="M490.09 350.88L491.54 353.48L488.64 353.48Z" fill="#d4161c" stroke="#5e0c0c" stroke-width="0.4"/>
<path d="M492.17 350.26L493.62 352.86L490.72 352.86Z" fill="#d4161c" stroke="#5e0c0c" stroke-width="0.4"/>
<path d="M491.13 353.37L492.58 355.97L489.68 355.97Z" fill="#d4161c" stroke="#5e0c0c" stroke-width="0.4"/>
<path d="M489.05 355.03L490.50 357.63L487.60 357.63Z" fill="#d4161c" stroke="#5e0c0c" stroke-width="0.4"/>
<path d="M493.20 355.86L494.65 358.46L491.75 358.46Z" fill="#d4161c" stroke="#5e0c0c" stroke-width="0.4"/>
<path d="M495.28 354.40L496.73 357.00L493.83 357.00Z" fill="#d4161c" stroke="#5e0c0c" stroke-width="0.4"/>
<path d="M497.35 351.29L498.80 353.89L495.90 353.89Z" fill="#d4161c" stroke="#5e0c0c" stroke-width="0.4"/>
<path d="M498.39 353.37L499.84 355.97L496.94 355.97Z" fill="#d4161c" stroke="#5e0c0c" stroke-width="0.4"/>
<path d="M500.46 356.48L501.91 359.08L499.01 359.08Z" fill="#d4161c" stroke="#5e0c0c" stroke-width="0.4"/>
<path d="M502.54 352.33L503.99 354.93L501.09 354.93Z" fill="#d4161c" stroke="#5e0c0c" stroke-width="0.4"/>
<path d="M503.58 355.03L505.03 357.63L502.13 357.63Z" fill="#d4161c" stroke="#5e0c0c" stroke-width="0.4"/>
<path d="M504.61 357.10L506.06 359.70L503.16 359.70Z" fill="#d4161c" stroke="#5e0c0c" stroke-width="0.4"/>
<path d="M506.69 353.78L508.14 356.38L505.24 356.38Z" fill="#d4161c" stroke="#5e0c0c" stroke-width="0.4"/>
<path d="M509.18 352.33L510.63 354.93L507.73 354.93Z" fill="#d4161c" stroke="#5e0c0c" stroke-width="0.4"/>
<path d="M510.42 355.44L511.87 358.04L508.97 358.04Z" fill="#d4161c" stroke="#5e0c0c" stroke-width="0.4"/>
<path d="M511.88 356.48L513.33 359.08L510.43 359.08Z" fill="#d4161c" stroke="#5e0c0c" stroke-width="0.4"/>
<path d="M513.95 355.03L515.40 357.63L512.50 357.63Z" fill="#d4161c" stroke="#5e0c0c" stroke-width="0.4"/>
<path d="M517.06 358.55L518.51 361.15L515.61 361.15Z" fill="#d4161c" stroke="#5e0c0c" stroke-width="0.4"/>
<path d="M490.09 357.52L491.54 360.12L488.64 360.12Z" fill="#d4161c" stroke="#5e0c0c" stroke-width="0.4"/>
<path d="M493.20 357.93L494.65 360.53L491.75 360.53Z" fill="#d4161c" stroke="#5e0c0c" stroke-width="0.4"/>
<path d="M496.32 357.52L497.77 360.12L494.87 360.12Z" fill="#d4161c" stroke="#5e0c0c" stroke-width="0.4"/>
<path d="M498.39 358.55L499.84 361.15L496.94 361.15Z" fill="#d4161c" stroke="#5e0c0c" stroke-width="0.4"/>
<path d="M501.50 357.93L502.95 360.53L500.05 360.53Z" fill="#d4161c" stroke="#5e0c0c" stroke-width="0.4"/>
<path d="M503.58 358.55L505.03 361.15L502.13 361.15Z" fill="#d4161c" stroke="#5e0c0c" stroke-width="0.4"/>
<path d="M506.69 358.55L508.14 361.15L505.24 361.15Z" fill="#d4161c" stroke="#5e0c0c" stroke-width="0.4"/>
<path d="M509.80 357.52L511.25 360.12L508.35 360.12Z" fill="#d4161c" stroke="#5e0c0c" stroke-width="0.4"/>
</g>
<g stroke="#262626" stroke-width="0.9" fill="none">
<line x1="100.50" y1="389.27" x2="100.50" y2="444.50"/>
<line x1="100.50" y1="444.50" x2="184.01" y2="444.50"/>
<line x1="98.00" y1="444.50" x2="100.50" y2="444.50"/>
<line x1="98.00" y1="433.45" x2="100.50" y2="433.45"/>
<line x1="98.00" y1="422.41" x2="100.50" y2="422.41"/>
<line x1="98.00" y1="411.36" x2="100.50" y2="411.36"/>
<line x1="98.00" y1="400.32" x2="100.50" y2="400.32"/>
<line x1="98.00" y1="389.27" x2="100.50" y2="389.27"/>
<line x1="100.50" y1="444.50" x2="100.50" y2="447.00"/>
<line x1="117.20" y1="444.50" x2="117.20" y2="447.00"/>
<line x1="133.90" y1="444.50" x2="133.90" y2="447.00"/>
<line x1="150.60" y1="444.50" x2="150.60" y2="447.00"/>
<line x1="167.31" y1="444.50" x2="167.31" y2="447.00"/>
<line x1="184.01" y1="444.50" x2="184.01" y2="447.00"/>
</g>
<g font-size="4.4" font-weight="bold" fill="#1a1a1a" stroke="#1a1a1a" stroke-width="0.12">
<text x="91.70" y="446.08" textLength="5.4" lengthAdjust="spacingAndGlyphs">0.0</text>
<text x="91.70" y="435.04" textLength="5.4" lengthAdjust="spacingAndGlyphs">0.2</text>
<text x="91.70" y="423.99" textLength="5.4" lengthAdjust="spacingAndGlyphs">0.4</text>
<text x="91.70" y="412.95" textLength="5.4" lengthAdjust="spacingAndGlyphs">0.6</text>
<text x="91.70" y="401.90" textLength="5.4" lengthAdjust="spacingAndGlyphs">0.8</text>
<text x="91.70" y="390.86" textLength="5.4" lengthAdjust="spacingAndGlyphs">1.0</text>
<text x="99.42" y="451.80" textLength="2.1" lengthAdjust="spacingAndGlyphs">0</text>
<text x="115.05" y="451.80" textLength="4.3" lengthAdjust="spacingAndGlyphs">20</text>
<text x="131.75" y="451.80" textLength="4.3" lengthAdjust="spacingAndGlyphs">40</text>
<text x="148.45" y="451.80" textLength="4.3" lengthAdjust="spacingAndGlyphs">60</text>
<text x="165.16" y="451.80" textLength="4.3" lengthAdjust="spacingAndGlyphs">80</text>
<text x="180.78" y="451.80" textLength="6.4" lengthAdjust="spacingAndGlyphs">100</text>
</g>
<line x1="129.46" y1="435.75" x2="164.37" y2="422.00" stroke="#f4928a" stroke-width="0.9"/>
<g>
<circle cx="155.70" cy="396.73" r="1.45" fill="#e5121a" stroke="#a00c10" stroke-width="0.35"/>
<circle cx="163.29" cy="405.67" r="1.45" fill="#e5121a" stroke="#a00c10" stroke-width="0.35"/>
<circle cx="143.95" cy="405.67" r="1.45" fill="#e5121a" stroke="#a00c10" stroke-width="0.35"/>
<circle cx="145.54" cy="407.14" r="1.45" fill="#e5121a" stroke="#a00c10" stroke-width="0.35"/>
<circle cx="146.40" cy="408.36" r="1.45" fill="#e5121a" stroke="#a00c10" stroke-width="0.35"/>
<circle cx="151.29" cy="408.12" r="1.45" fill="#e5121a" stroke="#a00c10" stroke-width="0.35"/>
<circle cx="156.56" cy="408.36" r="1.45" fill="#e5121a" stroke="#a00c10" stroke-width="0.35"/>
<circle cx="150.07" cy="409.83" r="1.45" fill="#e5121a" stroke="#a00c10" stroke-width="0.35"/>
<circle cx="154.47" cy="410.20" r="1.45" fill="#e5121a" stroke="#a00c10" stroke-width="0.35"/>
<circle cx="157.41" cy="412.03" r="1.45" fill="#e5121a" stroke="#a00c10" stroke-width="0.35"/>
<circle cx="137.58" cy="413.50" r="1.45" fill="#e5121a" stroke="#a00c10" stroke-width="0.35"/>
<circle cx="143.09" cy="412.28" r="1.45" fill="#e5121a" stroke="#a00c10" stroke-width="0.35"/>
<circle cx="144.68" cy="411.79" r="1.45" fill="#e5121a" stroke="#a00c10" stroke-width="0.35"/>
<circle cx="147.38" cy="412.64" r="1.45" fill="#e5121a" stroke="#a00c10" stroke-width="0.35"/>
<circle cx="149.21" cy="413.26" r="1.45" fill="#e5121a" stroke="#a00c10" stroke-width="0.35"/>
<circle cx="152.88" cy="413.26" r="1.45" fill="#e5121a" stroke="#a00c10" stroke-width="0.35"/>
<circle cx="148.35" cy="415.70" r="1.45" fill="#e5121a" stroke="#a00c10" stroke-width="0.35"/>
<circle cx="154.11" cy="413.87" r="1.45" fill="#e5121a" stroke="#a00c10" stroke-width="0.35"/>
<circle cx="155.33" cy="416.32" r="1.45" fill="#e5121a" stroke="#a00c10" stroke-width="0.35"/>
<circle cx="146.40" cy="416.32" r="1.45" fill="#e5121a" stroke="#a00c10" stroke-width="0.35"/>
<circle cx="160.84" cy="415.09" r="1.45" fill="#e5121a" stroke="#a00c10" stroke-width="0.35"/>
<circle cx="162.68" cy="417.54" r="1.45" fill="#e5121a" stroke="#a00c10" stroke-width="0.35"/>
<circle cx="141.26" cy="418.15" r="1.45" fill="#e5121a" stroke="#a00c10" stroke-width="0.35"/>
<circle cx="154.72" cy="418.15" r="1.45" fill="#e5121a" stroke="#a00c10" stroke-width="0.35"/>
<circle cx="155.94" cy="418.76" r="1.45" fill="#e5121a" stroke="#a00c10" stroke-width="0.35"/>
<circle cx="149.82" cy="421.21" r="1.45" fill="#e5121a" stroke="#a00c10" stroke-width="0.35"/>
<circle cx="152.88" cy="421.58" r="1.45" fill="#e5121a" stroke="#a00c10" stroke-width="0.35"/>
<circle cx="132.69" cy="422.80" r="1.45" fill="#e5121a" stroke="#a00c10" stroke-width="0.35"/>
<circle cx="156.56" cy="423.05" r="1.45" fill="#e5121a" stroke="#a00c10" stroke-width="0.35"/>
<circle cx="143.46" cy="424.27" r="1.45" fill="#e5121a" stroke="#a00c10" stroke-width="0.35"/>
<circle cx="147.38" cy="425.74" r="1.45" fill="#e5121a" stroke="#a00c10" stroke-width="0.35"/>
<circle cx="147.38" cy="428.56" r="1.45" fill="#e5121a" stroke="#a00c10" stroke-width="0.35"/>
<circle cx="142.48" cy="429.17" r="1.45" fill="#e5121a" stroke="#a00c10" stroke-width="0.35"/>
<circle cx="141.87" cy="431.37" r="1.45" fill="#e5121a" stroke="#a00c10" stroke-width="0.35"/>
<circle cx="160.23" cy="430.64" r="1.45" fill="#e5121a" stroke="#a00c10" stroke-width="0.35"/>
<circle cx="125.34" cy="436.76" r="1.45" fill="#e5121a" stroke="#a00c10" stroke-width="0.35"/>
<circle cx="130.00" cy="436.27" r="1.45" fill="#e5121a" stroke="#a00c10" stroke-width="0.35"/>
<circle cx="133.30" cy="436.51" r="1.45" fill="#e5121a" stroke="#a00c10" stroke-width="0.35"/>
<circle cx="131.46" cy="438.35" r="1.45" fill="#e5121a" stroke="#a00c10" stroke-width="0.35"/>
<circle cx="132.69" cy="440.18" r="1.45" fill="#e5121a" stroke="#a00c10" stroke-width="0.35"/>
<circle cx="133.91" cy="442.02" r="1.45" fill="#e5121a" stroke="#a00c10" stroke-width="0.35"/>
<circle cx="128.40" cy="442.63" r="1.45" fill="#e5121a" stroke="#a00c10" stroke-width="0.35"/>
<circle cx="136.97" cy="438.96" r="1.45" fill="#e5121a" stroke="#a00c10" stroke-width="0.35"/>
<circle cx="139.42" cy="437.98" r="1.45" fill="#e5121a" stroke="#a00c10" stroke-width="0.35"/>
<circle cx="141.87" cy="437.12" r="1.45" fill="#e5121a" stroke="#a00c10" stroke-width="0.35"/>
<circle cx="143.70" cy="438.35" r="1.45" fill="#e5121a" stroke="#a00c10" stroke-width="0.35"/>
<circle cx="145.54" cy="436.76" r="1.45" fill="#e5121a" stroke="#a00c10" stroke-width="0.35"/>
<circle cx="147.99" cy="437.74" r="1.45" fill="#e5121a" stroke="#a00c10" stroke-width="0.35"/>
<circle cx="149.21" cy="438.96" r="1.45" fill="#e5121a" stroke="#a00c10" stroke-width="0.35"/>
<circle cx="138.81" cy="440.18" r="1.45" fill="#e5121a" stroke="#a00c10" stroke-width="0.35"/>
<circle cx="141.26" cy="439.57" r="1.45" fill="#e5121a" stroke="#a00c10" stroke-width="0.35"/>
<circle cx="146.76" cy="439.57" r="1.45" fill="#e5121a" stroke="#a00c10" stroke-width="0.35"/>
<circle cx="143.09" cy="442.63" r="1.45" fill="#e5121a" stroke="#a00c10" stroke-width="0.35"/>
<circle cx="146.15" cy="442.63" r="1.45" fill="#e5121a" stroke="#a00c10" stroke-width="0.35"/>
<circle cx="150.44" cy="438.35" r="1.45" fill="#e5121a" stroke="#a00c10" stroke-width="0.35"/>
<circle cx="152.88" cy="439.57" r="1.45" fill="#e5121a" stroke="#a00c10" stroke-width="0.35"/>
<circle cx="154.11" cy="438.96" r="1.45" fill="#e5121a" stroke="#a00c10" stroke-width="0.35"/>
<circle cx="155.94" cy="438.35" r="1.45" fill="#e5121a" stroke="#a00c10" stroke-width="0.35"/>
<circle cx="158.39" cy="439.57" r="1.45" fill="#e5121a" stroke="#a00c10" stroke-width="0.35"/>
<circle cx="160.84" cy="438.96" r="1.45" fill="#e5121a" stroke="#a00c10" stroke-width="0.35"/>
<circle cx="153.50" cy="442.02" r="1.45" fill="#e5121a" stroke="#a00c10" stroke-width="0.35"/>
<circle cx="155.94" cy="441.41" r="1.45" fill="#e5121a" stroke="#a00c10" stroke-width="0.35"/>
<circle cx="157.17" cy="442.63" r="1.45" fill="#e5121a" stroke="#a00c10" stroke-width="0.35"/>
<circle cx="158.39" cy="441.41" r="1.45" fill="#e5121a" stroke="#a00c10" stroke-width="0.35"/>
<circle cx="160.84" cy="440.18" r="1.45" fill="#e5121a" stroke="#a00c10" stroke-width="0.35"/>
<circle cx="165.12" cy="443.24" r="1.45" fill="#e5121a" stroke="#a00c10" stroke-width="0.35"/>
<circle cx="154.72" cy="443.86" r="1.45" fill="#e5121a" stroke="#a00c10" stroke-width="0.35"/>
</g>
<text transform="translate(86.1,416.8) rotate(-90)" x="-12.2" y="2" font-size="5.2" font-weight="bold" fill="#333" textLength="24.5" lengthAdjust="spacingAndGlyphs">GSSG/GSH</text>
<g stroke="#262626" stroke-width="0.9" fill="none">
<line x1="215.50" y1="389.60" x2="215.50" y2="445.50"/>
<line x1="215.50" y1="445.50" x2="307.00" y2="445.50"/>
<line x1="213.00" y1="445.50" x2="215.50" y2="445.50"/>
<line x1="213.00" y1="426.87" x2="215.50" y2="426.87"/>
<line x1="213.00" y1="408.23" x2="215.50" y2="408.23"/>
<line x1="213.00" y1="389.60" x2="215.50" y2="389.60"/>
<line x1="215.50" y1="445.50" x2="215.50" y2="448.00"/>
<line x1="233.80" y1="445.50" x2="233.80" y2="448.00"/>
<line x1="252.10" y1="445.50" x2="252.10" y2="448.00"/>
<line x1="270.40" y1="445.50" x2="270.40" y2="448.00"/>
<line x1="288.70" y1="445.50" x2="288.70" y2="448.00"/>
<line x1="307.00" y1="445.50" x2="307.00" y2="448.00"/>
</g>
<g font-size="4.4" font-weight="bold" fill="#1a1a1a" stroke="#1a1a1a" stroke-width="0.12">
<text x="206.70" y="447.08" textLength="5.4" lengthAdjust="spacingAndGlyphs">0.0</text>
<text x="206.70" y="428.45" textLength="5.4" lengthAdjust="spacingAndGlyphs">0.5</text>
<text x="206.70" y="409.82" textLength="5.4" lengthAdjust="spacingAndGlyphs">1.0</text>
<text x="206.70" y="391.18" textLength="5.4" lengthAdjust="spacingAndGlyphs">1.5</text>
<text x="214.43" y="452.80" textLength="2.1" lengthAdjust="spacingAndGlyphs">0</text>
<text x="231.65" y="452.80" textLength="4.3" lengthAdjust="spacingAndGlyphs">20</text>
<text x="249.95" y="452.80" textLength="4.3" lengthAdjust="spacingAndGlyphs">40</text>
<text x="268.25" y="452.80" textLength="4.3" lengthAdjust="spacingAndGlyphs">60</text>
<text x="286.55" y="452.80" textLength="4.3" lengthAdjust="spacingAndGlyphs">80</text>
<text x="303.77" y="452.80" textLength="6.4" lengthAdjust="spacingAndGlyphs">100</text>
</g>
<line x1="243.60" y1="441.00" x2="291.00" y2="438.40" stroke="#333" stroke-width="0.9"/>
<g>
<path d="M268.40 396.90L269.90 398.40L268.40 399.90L266.90 398.40Z" fill="#cccc00" stroke="#858000" stroke-width="0.4"/>
<path d="M270.00 418.10L271.50 419.60L270.00 421.10L268.50 419.60Z" fill="#cccc00" stroke="#858000" stroke-width="0.4"/>
<path d="M261.60 419.50L263.10 421.00L261.60 422.50L260.10 421.00Z" fill="#cccc00" stroke="#858000" stroke-width="0.4"/>
<path d="M267.40 420.90L268.90 422.40L267.40 423.90L265.90 422.40Z" fill="#cccc00" stroke="#858000" stroke-width="0.4"/>
<path d="M269.00 421.50L270.50 423.00L269.00 424.50L267.50 423.00Z" fill="#cccc00" stroke="#858000" stroke-width="0.4"/>
<path d="M273.00 421.50L274.50 423.00L273.00 424.50L271.50 423.00Z" fill="#cccc00" stroke="#858000" stroke-width="0.4"/>
<path d="M279.40 423.90L280.90 425.40L279.40 426.90L277.90 425.40Z" fill="#cccc00" stroke="#858000" stroke-width="0.4"/>
<path d="M274.40 426.90L275.90 428.40L274.40 429.90L272.90 428.40Z" fill="#cccc00" stroke="#858000" stroke-width="0.4"/>
<path d="M277.00 426.50L278.50 428.00L277.00 429.50L275.50 428.00Z" fill="#cccc00" stroke="#858000" stroke-width="0.4"/>
<path d="M278.00 426.90L279.50 428.40L278.00 429.90L276.50 428.40Z" fill="#cccc00" stroke="#858000" stroke-width="0.4"/>
<path d="M264.40 427.10L265.90 428.60L264.40 430.10L262.90 428.60Z" fill="#cccc00" stroke="#858000" stroke-width="0.4"/>
<path d="M273.60 432.90L275.10 434.40L273.60 435.90L272.10 434.40Z" fill="#cccc00" stroke="#858000" stroke-width="0.4"/>
<path d="M243.60 442.50L245.10 444.00L243.60 445.50L242.10 444.00Z" fill="#cccc00" stroke="#858000" stroke-width="0.4"/>
<path d="M249.00 442.50L250.50 444.00L249.00 445.50L247.50 444.00Z" fill="#cccc00" stroke="#858000" stroke-width="0.4"/>
<path d="M251.60 442.50L253.10 444.00L251.60 445.50L250.10 444.00Z" fill="#cccc00" stroke="#858000" stroke-width="0.4"/>
<path d="M258.00 442.50L259.50 444.00L258.00 445.50L256.50 444.00Z" fill="#cccc00" stroke="#858000" stroke-width="0.4"/>
<path d="M261.00 442.50L262.50 444.00L261.00 445.50L259.50 444.00Z" fill="#cccc00" stroke="#858000" stroke-width="0.4"/>
<path d="M263.00 442.10L264.50 443.60L263.00 445.10L261.50 443.60Z" fill="#cccc00" stroke="#858000" stroke-width="0.4"/>
<path d="M264.40 442.50L265.90 444.00L264.40 445.50L262.90 444.00Z" fill="#cccc00" stroke="#858000" stroke-width="0.4"/>
<path d="M266.00 442.10L267.50 443.60L266.00 445.10L264.50 443.60Z" fill="#cccc00" stroke="#858000" stroke-width="0.4"/>
<path d="M269.00 442.50L270.50 444.00L269.00 445.50L267.50 444.00Z" fill="#cccc00" stroke="#858000" stroke-width="0.4"/>
<path d="M270.40 442.10L271.90 443.60L270.40 445.10L268.90 443.60Z" fill="#cccc00" stroke="#858000" stroke-width="0.4"/>
<path d="M275.00 442.50L276.50 444.00L275.00 445.50L273.50 444.00Z" fill="#cccc00" stroke="#858000" stroke-width="0.4"/>
<path d="M278.00 442.10L279.50 443.60L278.00 445.10L276.50 443.60Z" fill="#cccc00" stroke="#858000" stroke-width="0.4"/>
<path d="M281.00 442.50L282.50 444.00L281.00 445.50L279.50 444.00Z" fill="#cccc00" stroke="#858000" stroke-width="0.4"/>
<path d="M284.00 442.50L285.50 444.00L284.00 445.50L282.50 444.00Z" fill="#cccc00" stroke="#858000" stroke-width="0.4"/>
<path d="M286.00 442.10L287.50 443.60L286.00 445.10L284.50 443.60Z" fill="#cccc00" stroke="#858000" stroke-width="0.4"/>
<path d="M291.00 442.50L292.50 444.00L291.00 445.50L289.50 444.00Z" fill="#cccc00" stroke="#858000" stroke-width="0.4"/>
</g>
<g stroke="#262626" stroke-width="0.9" fill="none">
<line x1="331.50" y1="389.00" x2="331.50" y2="445.50"/>
<line x1="331.50" y1="445.50" x2="424.60" y2="445.50"/>
<line x1="329.00" y1="445.50" x2="331.50" y2="445.50"/>
<line x1="329.00" y1="434.20" x2="331.50" y2="434.20"/>
<line x1="329.00" y1="422.90" x2="331.50" y2="422.90"/>
<line x1="329.00" y1="411.60" x2="331.50" y2="411.60"/>
<line x1="329.00" y1="400.30" x2="331.50" y2="400.30"/>
<line x1="329.00" y1="389.00" x2="331.50" y2="389.00"/>
<line x1="331.50" y1="445.50" x2="331.50" y2="448.00"/>
<line x1="350.12" y1="445.50" x2="350.12" y2="448.00"/>
<line x1="368.74" y1="445.50" x2="368.74" y2="448.00"/>
<line x1="387.36" y1="445.50" x2="387.36" y2="448.00"/>
<line x1="405.98" y1="445.50" x2="405.98" y2="448.00"/>
<line x1="424.60" y1="445.50" x2="424.60" y2="448.00"/>
</g>
<g font-size="4.4" font-weight="bold" fill="#1a1a1a" stroke="#1a1a1a" stroke-width="0.12">
<text x="325.95" y="447.08" textLength="2.1" lengthAdjust="spacingAndGlyphs">0</text>
<text x="325.95" y="435.78" textLength="2.1" lengthAdjust="spacingAndGlyphs">1</text>
<text x="325.95" y="424.48" textLength="2.1" lengthAdjust="spacingAndGlyphs">2</text>
<text x="325.95" y="413.18" textLength="2.1" lengthAdjust="spacingAndGlyphs">3</text>
<text x="325.95" y="401.88" textLength="2.1" lengthAdjust="spacingAndGlyphs">4</text>
<text x="325.95" y="390.58" textLength="2.1" lengthAdjust="spacingAndGlyphs">5</text>
<text x="330.43" y="452.80" textLength="2.1" lengthAdjust="spacingAndGlyphs">0</text>
<text x="347.97" y="452.80" textLength="4.3" lengthAdjust="spacingAndGlyphs">20</text>
<text x="366.59" y="452.80" textLength="4.3" lengthAdjust="spacingAndGlyphs">40</text>
<text x="385.21" y="452.80" textLength="4.3" lengthAdjust="spacingAndGlyphs">60</text>
<text x="403.83" y="452.80" textLength="4.3" lengthAdjust="spacingAndGlyphs">80</text>
<text x="421.38" y="452.80" textLength="6.4" lengthAdjust="spacingAndGlyphs">100</text>
</g>
<line x1="360.40" y1="440.40" x2="408.00" y2="433.00" stroke="#9a9a9a" stroke-width="0.9"/>
<g>
<rect x="398.50" y="396.10" width="3" height="3" fill="#c0121a" stroke="#5a0b0d" stroke-width="0.45"/>
<rect x="385.50" y="414.50" width="3" height="3" fill="#c0121a" stroke="#5a0b0d" stroke-width="0.45"/>
<rect x="389.50" y="416.50" width="3" height="3" fill="#c0121a" stroke="#5a0b0d" stroke-width="0.45"/>
<rect x="401.50" y="414.90" width="3" height="3" fill="#c0121a" stroke="#5a0b0d" stroke-width="0.45"/>
<rect x="372.90" y="417.10" width="3" height="3" fill="#c0121a" stroke="#5a0b0d" stroke-width="0.45"/>
<rect x="392.10" y="420.10" width="3" height="3" fill="#c0121a" stroke="#5a0b0d" stroke-width="0.45"/>
<rect x="393.50" y="420.50" width="3" height="3" fill="#c0121a" stroke="#5a0b0d" stroke-width="0.45"/>
<rect x="400.50" y="421.50" width="3" height="3" fill="#c0121a" stroke="#5a0b0d" stroke-width="0.45"/>
<rect x="386.50" y="423.50" width="3" height="3" fill="#c0121a" stroke="#5a0b0d" stroke-width="0.45"/>
<rect x="384.10" y="426.10" width="3" height="3" fill="#c0121a" stroke="#5a0b0d" stroke-width="0.45"/>
<rect x="392.90" y="426.90" width="3" height="3" fill="#c0121a" stroke="#5a0b0d" stroke-width="0.45"/>
<rect x="406.90" y="428.90" width="3" height="3" fill="#c0121a" stroke="#5a0b0d" stroke-width="0.45"/>
<rect x="395.50" y="430.50" width="3" height="3" fill="#c0121a" stroke="#5a0b0d" stroke-width="0.45"/>
<rect x="358.10" y="432.50" width="3" height="3" fill="#c0121a" stroke="#5a0b0d" stroke-width="0.45"/>
<rect x="366.10" y="432.90" width="3" height="3" fill="#c0121a" stroke="#5a0b0d" stroke-width="0.45"/>
<rect x="366.50" y="434.90" width="3" height="3" fill="#c0121a" stroke="#5a0b0d" stroke-width="0.45"/>
<rect x="366.90" y="436.90" width="3" height="3" fill="#c0121a" stroke="#5a0b0d" stroke-width="0.45"/>
<rect x="373.50" y="434.10" width="3" height="3" fill="#c0121a" stroke="#5a0b0d" stroke-width="0.45"/>
<rect x="376.50" y="432.50" width="3" height="3" fill="#c0121a" stroke="#5a0b0d" stroke-width="0.45"/>
<rect x="378.50" y="432.10" width="3" height="3" fill="#c0121a" stroke="#5a0b0d" stroke-width="0.45"/>
<rect x="380.90" y="434.90" width="3" height="3" fill="#c0121a" stroke="#5a0b0d" stroke-width="0.45"/>
<rect x="384.50" y="432.50" width="3" height="3" fill="#c0121a" stroke="#5a0b0d" stroke-width="0.45"/>
<rect x="378.10" y="436.10" width="3" height="3" fill="#c0121a" stroke="#5a0b0d" stroke-width="0.45"/>
<rect x="380.90" y="436.90" width="3" height="3" fill="#c0121a" stroke="#5a0b0d" stroke-width="0.45"/>
<rect x="383.50" y="436.10" width="3" height="3" fill="#c0121a" stroke="#5a0b0d" stroke-width="0.45"/>
<rect x="385.50" y="436.90" width="3" height="3" fill="#c0121a" stroke="#5a0b0d" stroke-width="0.45"/>
<rect x="390.50" y="432.50" width="3" height="3" fill="#c0121a" stroke="#5a0b0d" stroke-width="0.45"/>
<rect x="391.50" y="434.10" width="3" height="3" fill="#c0121a" stroke="#5a0b0d" stroke-width="0.45"/>
<rect x="398.90" y="434.90" width="3" height="3" fill="#c0121a" stroke="#5a0b0d" stroke-width="0.45"/>
<rect x="376.90" y="440.10" width="3" height="3" fill="#c0121a" stroke="#5a0b0d" stroke-width="0.45"/>
<rect x="381.50" y="439.50" width="3" height="3" fill="#c0121a" stroke="#5a0b0d" stroke-width="0.45"/>
<rect x="384.50" y="438.90" width="3" height="3" fill="#c0121a" stroke="#5a0b0d" stroke-width="0.45"/>
<rect x="363.50" y="443.50" width="3" height="3" fill="#c0121a" stroke="#5a0b0d" stroke-width="0.45"/>
<rect x="378.10" y="442.90" width="3" height="3" fill="#c0121a" stroke="#5a0b0d" stroke-width="0.45"/>
<rect x="380.50" y="443.50" width="3" height="3" fill="#c0121a" stroke="#5a0b0d" stroke-width="0.45"/>
<rect x="382.50" y="442.90" width="3" height="3" fill="#c0121a" stroke="#5a0b0d" stroke-width="0.45"/>
<rect x="385.50" y="442.50" width="3" height="3" fill="#c0121a" stroke="#5a0b0d" stroke-width="0.45"/>
<rect x="388.10" y="443.50" width="3" height="3" fill="#c0121a" stroke="#5a0b0d" stroke-width="0.45"/>
<rect x="390.90" y="442.90" width="3" height="3" fill="#c0121a" stroke="#5a0b0d" stroke-width="0.45"/>
<rect x="393.50" y="442.50" width="3" height="3" fill="#c0121a" stroke="#5a0b0d" stroke-width="0.45"/>
<rect x="396.50" y="443.50" width="3" height="3" fill="#c0121a" stroke="#5a0b0d" stroke-width="0.45"/>
<rect x="394.90" y="436.90" width="3" height="3" fill="#c0121a" stroke="#5a0b0d" stroke-width="0.45"/>
<rect x="394.10" y="439.50" width="3" height="3" fill="#c0121a" stroke="#5a0b0d" stroke-width="0.45"/>
</g>
<g stroke="#262626" stroke-width="0.9" fill="none">
<line x1="446.50" y1="390.15" x2="446.50" y2="446.50"/>
<line x1="446.50" y1="446.50" x2="536.77" y2="446.50"/>
<line x1="444.00" y1="446.50" x2="446.50" y2="446.50"/>
<line x1="444.00" y1="427.72" x2="446.50" y2="427.72"/>
<line x1="444.00" y1="408.93" x2="446.50" y2="408.93"/>
<line x1="444.00" y1="390.15" x2="446.50" y2="390.15"/>
<line x1="446.50" y1="446.50" x2="446.50" y2="449.00"/>
<line x1="469.07" y1="446.50" x2="469.07" y2="449.00"/>
<line x1="491.64" y1="446.50" x2="491.64" y2="449.00"/>
<line x1="514.20" y1="446.50" x2="514.20" y2="449.00"/>
<line x1="536.77" y1="446.50" x2="536.77" y2="449.00"/>
</g>
<g font-size="4.4" font-weight="bold" fill="#1a1a1a" stroke="#1a1a1a" stroke-width="0.12">
<text x="437.70" y="448.08" textLength="5.4" lengthAdjust="spacingAndGlyphs">0.0</text>
<text x="437.70" y="429.30" textLength="5.4" lengthAdjust="spacingAndGlyphs">0.2</text>
<text x="437.70" y="410.52" textLength="5.4" lengthAdjust="spacingAndGlyphs">0.4</text>
<text x="437.70" y="391.73" textLength="5.4" lengthAdjust="spacingAndGlyphs">0.6</text>
<text x="445.43" y="453.80" textLength="2.1" lengthAdjust="spacingAndGlyphs">0</text>
<text x="466.92" y="453.80" textLength="4.3" lengthAdjust="spacingAndGlyphs">20</text>
<text x="489.49" y="453.80" textLength="4.3" lengthAdjust="spacingAndGlyphs">40</text>
<text x="512.05" y="453.80" textLength="4.3" lengthAdjust="spacingAndGlyphs">60</text>
<text x="534.62" y="453.80" textLength="4.3" lengthAdjust="spacingAndGlyphs">80</text>
</g>
<line x1="480.76" y1="435.79" x2="533.66" y2="432.68" stroke="#9a9a9a" stroke-width="0.9"/>
<g>
<path d="M524.74 399.02L526.19 401.62L523.29 401.62Z" fill="#d4161c" stroke="#5e0c0c" stroke-width="0.4"/>
<path d="M509.80 406.28L511.25 408.88L508.35 408.88Z" fill="#d4161c" stroke="#5e0c0c" stroke-width="0.4"/>
<path d="M513.33 421.43L514.78 424.03L511.88 424.03Z" fill="#d4161c" stroke="#5e0c0c" stroke-width="0.4"/>
<path d="M529.10 422.26L530.55 424.86L527.65 424.86Z" fill="#d4161c" stroke="#5e0c0c" stroke-width="0.4"/>
<path d="M490.51 422.88L491.96 425.48L489.06 425.48Z" fill="#d4161c" stroke="#5e0c0c" stroke-width="0.4"/>
<path d="M522.25 425.58L523.70 428.18L520.80 428.18Z" fill="#d4161c" stroke="#5e0c0c" stroke-width="0.4"/>
<path d="M523.29 426.41L524.74 429.01L521.84 429.01Z" fill="#d4161c" stroke="#5e0c0c" stroke-width="0.4"/>
<path d="M480.76 429.11L482.21 431.71L479.31 431.71Z" fill="#d4161c" stroke="#5e0c0c" stroke-width="0.4"/>
<path d="M497.98 427.65L499.43 430.25L496.53 430.25Z" fill="#d4161c" stroke="#5e0c0c" stroke-width="0.4"/>
<path d="M502.95 429.11L504.40 431.71L501.50 431.71Z" fill="#d4161c" stroke="#5e0c0c" stroke-width="0.4"/>
<path d="M504.61 430.56L506.06 433.16L503.16 433.16Z" fill="#d4161c" stroke="#5e0c0c" stroke-width="0.4"/>
<path d="M517.06 429.11L518.51 431.71L515.61 431.71Z" fill="#d4161c" stroke="#5e0c0c" stroke-width="0.4"/>
<path d="M520.80 429.73L522.25 432.33L519.35 432.33Z" fill="#d4161c" stroke="#5e0c0c" stroke-width="0.4"/>
<path d="M532.62 432.63L534.07 435.23L531.17 435.23Z" fill="#d4161c" stroke="#5e0c0c" stroke-width="0.4"/>
<path d="M486.98 435.33L488.43 437.93L485.53 437.93Z" fill="#d4161c" stroke="#5e0c0c" stroke-width="0.4"/>
<path d="M489.68 433.88L491.13 436.48L488.23 436.48Z" fill="#d4161c" stroke="#5e0c0c" stroke-width="0.4"/>
<path d="M493.83 433.88L495.28 436.48L492.38 436.48Z" fill="#d4161c" stroke="#5e0c0c" stroke-width="0.4"/>
<path d="M498.80 436.78L500.25 439.38L497.35 439.38Z" fill="#d4161c" stroke="#5e0c0c" stroke-width="0.4"/>
<path d="M501.50 438.03L502.95 440.63L500.05 440.63Z" fill="#d4161c" stroke="#5e0c0c" stroke-width="0.4"/>
<path d="M502.54 438.86L503.99 441.46L501.09 441.46Z" fill="#d4161c" stroke="#5e0c0c" stroke-width="0.4"/>
<path d="M505.03 435.33L506.48 437.93L503.58 437.93Z" fill="#d4161c" stroke="#5e0c0c" stroke-width="0.4"/>
<path d="M506.27 436.37L507.72 438.97L504.82 438.97Z" fill="#d4161c" stroke="#5e0c0c" stroke-width="0.4"/>
<path d="M508.35 434.29L509.80 436.89L506.90 436.89Z" fill="#d4161c" stroke="#5e0c0c" stroke-width="0.4"/>
<path d="M510.42 436.78L511.87 439.38L508.97 439.38Z" fill="#d4161c" stroke="#5e0c0c" stroke-width="0.4"/>
<path d="M511.88 438.03L513.33 440.63L510.43 440.63Z" fill="#d4161c" stroke="#5e0c0c" stroke-width="0.4"/>
<path d="M513.33 435.33L514.78 437.93L511.88 437.93Z" fill="#d4161c" stroke="#5e0c0c" stroke-width="0.4"/>
<path d="M514.99 435.95L516.44 438.55L513.54 438.55Z" fill="#d4161c" stroke="#5e0c0c" stroke-width="0.4"/>
<path d="M518.10 436.37L519.55 438.97L516.65 438.97Z" fill="#d4161c" stroke="#5e0c0c" stroke-width="0.4"/>
<path d="M520.17 434.29L521.62 436.89L518.72 436.89Z" fill="#d4161c" stroke="#5e0c0c" stroke-width="0.4"/>
<path d="M521.21 435.95L522.66 438.55L519.76 438.55Z" fill="#d4161c" stroke="#5e0c0c" stroke-width="0.4"/>
<path d="M524.32 436.78L525.77 439.38L522.87 439.38Z" fill="#d4161c" stroke="#5e0c0c" stroke-width="0.4"/>
<path d="M526.40 438.03L527.85 440.63L524.95 440.63Z" fill="#d4161c" stroke="#5e0c0c" stroke-width="0.4"/>
<path d="M529.10 437.40L530.55 440.00L527.65 440.00Z" fill="#d4161c" stroke="#5e0c0c" stroke-width="0.4"/>
<path d="M530.55 436.37L532.00 438.97L529.10 438.97Z" fill="#d4161c" stroke="#5e0c0c" stroke-width="0.4"/>
<path d="M490.51 438.86L491.96 441.46L489.06 441.46Z" fill="#d4161c" stroke="#5e0c0c" stroke-width="0.4"/>
<path d="M491.13 440.10L492.58 442.70L489.68 442.70Z" fill="#d4161c" stroke="#5e0c0c" stroke-width="0.4"/>
<path d="M507.10 443.63L508.55 446.23L505.65 446.23Z" fill="#d4161c" stroke="#5e0c0c" stroke-width="0.4"/>
<path d="M503.37 428.96L504.82 431.56L501.92 431.56Z" fill="#d4161c" stroke="#5e0c0c" stroke-width="0.4"/>
<path d="M505.14 430.73L506.59 433.33L503.69 433.33Z" fill="#d4161c" stroke="#5e0c0c" stroke-width="0.4"/>
<path d="M505.97 431.92L507.42 434.52L504.52 434.52Z" fill="#d4161c" stroke="#5e0c0c" stroke-width="0.4"/>
<path d="M503.96 434.28L505.41 436.88L502.51 436.88Z" fill="#d4161c" stroke="#5e0c0c" stroke-width="0.4"/>
<path d="M502.78 436.05L504.23 438.65L501.33 438.65Z" fill="#d4161c" stroke="#5e0c0c" stroke-width="0.4"/>
<path d="M501.60 437.83L503.05 440.43L500.15 440.43Z" fill="#d4161c" stroke="#5e0c0c" stroke-width="0.4"/>
<path d="M509.87 433.69L511.32 436.29L508.42 436.29Z" fill="#d4161c" stroke="#5e0c0c" stroke-width="0.4"/>
<path d="M511.64 434.87L513.09 437.47L510.19 437.47Z" fill="#d4161c" stroke="#5e0c0c" stroke-width="0.4"/>
<path d="M512.83 432.51L514.28 435.11L511.38 435.11Z" fill="#d4161c" stroke="#5e0c0c" stroke-width="0.4"/>
<path d="M514.01 431.92L515.46 434.52L512.56 434.52Z" fill="#d4161c" stroke="#5e0c0c" stroke-width="0.4"/>
<path d="M517.55 433.10L519.00 435.70L516.10 435.70Z" fill="#d4161c" stroke="#5e0c0c" stroke-width="0.4"/>
<path d="M519.33 434.28L520.78 436.88L517.88 436.88Z" fill="#d4161c" stroke="#5e0c0c" stroke-width="0.4"/>
<path d="M520.51 433.10L521.96 435.70L519.06 435.70Z" fill="#d4161c" stroke="#5e0c0c" stroke-width="0.4"/>
<path d="M521.69 430.73L523.14 433.33L520.24 433.33Z" fill="#d4161c" stroke="#5e0c0c" stroke-width="0.4"/>
<path d="M522.28 428.96L523.73 431.56L520.83 431.56Z" fill="#d4161c" stroke="#5e0c0c" stroke-width="0.4"/>
<path d="M522.87 437.24L524.32 439.84L521.42 439.84Z" fill="#d4161c" stroke="#5e0c0c" stroke-width="0.4"/>
<path d="M524.65 434.87L526.10 437.47L523.20 437.47Z" fill="#d4161c" stroke="#5e0c0c" stroke-width="0.4"/>
<path d="M528.78 436.05L530.23 438.65L527.33 438.65Z" fill="#d4161c" stroke="#5e0c0c" stroke-width="0.4"/>
<path d="M530.56 436.64L532.01 439.24L529.11 439.24Z" fill="#d4161c" stroke="#5e0c0c" stroke-width="0.4"/>
<path d="M531.74 436.05L533.19 438.65L530.29 438.65Z" fill="#d4161c" stroke="#5e0c0c" stroke-width="0.4"/>
<path d="M516.37 439.01L517.82 441.61L514.92 441.61Z" fill="#d4161c" stroke="#5e0c0c" stroke-width="0.4"/>
<path d="M528.19 437.24L529.64 439.84L526.74 439.84Z" fill="#d4161c" stroke="#5e0c0c" stroke-width="0.4"/>
<path d="M509.28 435.46L510.73 438.06L507.83 438.06Z" fill="#d4161c" stroke="#5e0c0c" stroke-width="0.4"/>
</g>
</svg></body></html>
